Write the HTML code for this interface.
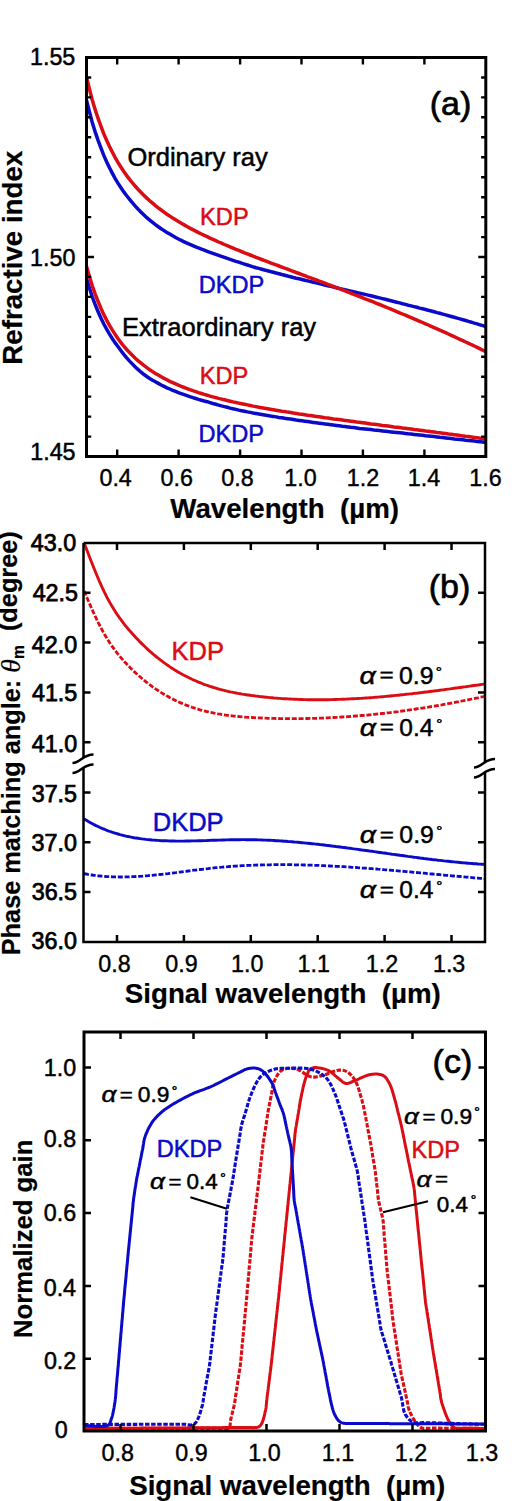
<!DOCTYPE html>
<html><head><meta charset="utf-8"><style>
html,body{margin:0;padding:0;background:#fff;width:520px;height:1501px;overflow:hidden}
svg{display:block}
text{font-family:"Liberation Sans", sans-serif;fill:#000}
</style></head><body>
<svg width="520" height="1501" viewBox="0 0 520 1501">
<path d="M86.5,100.1 L89.4,111.7 L92.2,122.2 L95.1,131.6 L98.0,140.1 L100.9,147.9 L103.7,155.1 L106.6,161.7 L109.5,167.8 L112.4,173.4 L115.2,178.6 L118.1,183.4 L121.0,187.8 L123.8,191.9 L126.7,195.8 L129.6,199.4 L132.5,202.9 L135.3,206.2 L138.2,209.3 L141.1,212.2 L144.0,215.0 L146.8,217.7 L149.7,220.1 L152.6,222.4 L155.4,224.6 L158.3,226.7 L161.2,228.7 L164.1,230.6 L166.9,232.4 L169.8,234.1 L172.7,235.8 L175.6,237.5 L178.4,239.0 L181.3,240.4 L184.2,241.8 L187.0,243.1 L189.9,244.4 L192.8,245.6 L195.7,246.8 L198.5,248.0 L201.4,249.1 L204.3,250.2 L207.2,251.3 L210.0,252.3 L212.9,253.3 L215.8,254.3 L218.6,255.3 L221.5,256.4 L224.4,257.4 L227.3,258.4 L230.1,259.4 L233.0,260.3 L235.9,261.3 L238.8,262.2 L241.6,263.2 L244.5,264.1 L247.4,265.0 L250.2,265.9 L253.1,266.8 L256.0,267.7 L258.9,268.4 L261.7,269.2 L264.6,270.0 L267.5,270.7 L270.4,271.5 L273.2,272.2 L276.1,273.0 L279.0,273.7 L281.8,274.5 L284.7,275.2 L287.6,276.0 L290.5,276.7 L293.3,277.5 L296.2,278.2 L299.1,278.8 L301.9,279.5 L304.8,280.2 L307.7,280.9 L310.6,281.6 L313.4,282.3 L316.3,282.9 L319.2,283.6 L322.1,284.3 L324.9,285.0 L327.8,285.7 L330.7,286.4 L333.5,287.1 L336.4,287.8 L339.3,288.5 L342.2,289.1 L345.0,289.8 L347.9,290.4 L350.8,291.1 L353.7,291.8 L356.5,292.4 L359.4,293.1 L362.3,293.8 L365.1,294.4 L368.0,295.1 L370.9,295.8 L373.8,296.5 L376.6,297.2 L379.5,297.9 L382.4,298.6 L385.3,299.3 L388.1,300.0 L391.0,300.7 L393.9,301.5 L396.7,302.2 L399.6,302.9 L402.5,303.7 L405.4,304.4 L408.2,305.2 L411.1,305.9 L414.0,306.6 L416.9,307.3 L419.7,308.1 L422.6,308.8 L425.5,309.5 L428.3,310.3 L431.2,311.0 L434.1,311.8 L437.0,312.6 L439.8,313.3 L442.7,314.1 L445.6,314.9 L448.5,315.7 L451.3,316.5 L454.2,317.3 L457.1,318.1 L459.9,318.9 L462.8,319.7 L465.7,320.5 L468.6,321.4 L471.4,322.2 L474.3,323.1 L477.2,323.9 L480.1,324.8 L482.9,325.7 L485.8,326.6" stroke="#0a0ac8" stroke-width="3.5" fill="none"/>
<path d="M86.5,77.1 L89.4,89.0 L92.2,99.7 L95.1,109.4 L98.0,118.2 L100.9,126.2 L103.7,133.6 L106.6,140.3 L109.5,146.6 L112.4,152.3 L115.2,157.6 L118.1,162.6 L121.0,167.2 L123.8,171.5 L126.7,175.6 L129.6,179.4 L132.5,183.0 L135.3,186.3 L138.2,189.5 L141.1,192.5 L144.0,195.4 L146.8,198.1 L149.7,200.7 L152.6,203.2 L155.4,205.6 L158.3,207.9 L161.2,210.0 L164.1,212.1 L166.9,214.2 L169.8,216.1 L172.7,218.0 L175.6,219.8 L178.4,221.6 L181.3,223.3 L184.2,224.9 L187.0,226.5 L189.9,228.1 L192.8,229.6 L195.7,231.1 L198.5,232.6 L201.4,234.0 L204.3,235.4 L207.2,236.7 L210.0,238.1 L212.9,239.4 L215.8,240.7 L218.6,242.0 L221.5,243.2 L224.4,244.5 L227.3,245.7 L230.1,246.9 L233.0,248.1 L235.9,249.3 L238.8,250.4 L241.6,251.6 L244.5,252.8 L247.4,253.9 L250.2,255.0 L253.1,256.1 L256.0,257.3 L258.9,258.4 L261.7,259.5 L264.6,260.6 L267.5,261.7 L270.4,262.8 L273.2,263.8 L276.1,264.9 L279.0,266.0 L281.8,267.1 L284.7,268.2 L287.6,269.2 L290.5,270.3 L293.3,271.4 L296.2,272.5 L299.1,273.5 L301.9,274.6 L304.8,275.7 L307.7,276.8 L310.6,277.8 L313.4,278.9 L316.3,280.0 L319.2,281.1 L322.1,282.2 L324.9,283.2 L327.8,284.3 L330.7,285.4 L333.5,286.5 L336.4,287.6 L339.3,288.7 L342.2,289.8 L345.0,290.9 L347.9,292.0 L350.8,293.1 L353.7,294.3 L356.5,295.4 L359.4,296.5 L362.3,297.6 L365.1,298.8 L368.0,299.9 L370.9,301.0 L373.8,302.2 L376.6,303.4 L379.5,304.5 L382.4,305.7 L385.3,306.8 L388.1,308.0 L391.0,309.2 L393.9,310.4 L396.7,311.6 L399.6,312.8 L402.5,314.0 L405.4,315.2 L408.2,316.4 L411.1,317.6 L414.0,318.8 L416.9,320.1 L419.7,321.3 L422.6,322.5 L425.5,323.8 L428.3,325.0 L431.2,326.3 L434.1,327.6 L437.0,328.9 L439.8,330.1 L442.7,331.4 L445.6,332.7 L448.5,334.0 L451.3,335.3 L454.2,336.6 L457.1,338.0 L459.9,339.3 L462.8,340.6 L465.7,342.0 L468.6,343.3 L471.4,344.7 L474.3,346.0 L477.2,347.4 L480.1,348.8 L482.9,350.2 L485.8,351.6" stroke="#da0c14" stroke-width="3.5" fill="none"/>
<path d="M86.5,278.2 L89.4,287.9 L92.2,296.6 L95.1,304.4 L98.0,311.5 L100.9,318.0 L103.7,323.8 L106.6,329.2 L109.5,334.1 L112.4,338.7 L115.2,342.9 L118.1,346.8 L121.0,350.7 L123.8,354.4 L126.7,357.9 L129.6,361.1 L132.5,364.1 L135.3,367.0 L138.2,369.6 L141.1,372.2 L144.0,374.5 L146.8,376.5 L149.7,378.4 L152.6,380.2 L155.4,381.8 L158.3,383.4 L161.2,385.0 L164.1,386.4 L166.9,387.8 L169.8,389.0 L172.7,390.3 L175.6,391.4 L178.4,392.6 L181.3,393.7 L184.2,394.7 L187.0,395.7 L189.9,396.7 L192.8,397.6 L195.7,398.5 L198.5,399.4 L201.4,400.2 L204.3,401.0 L207.2,401.7 L210.0,402.6 L212.9,403.5 L215.8,404.3 L218.6,405.1 L221.5,405.9 L224.4,406.6 L227.3,407.3 L230.1,408.1 L233.0,408.8 L235.9,409.4 L238.8,410.1 L241.6,410.7 L244.5,411.3 L247.4,411.9 L250.2,412.4 L253.1,413.0 L256.0,413.5 L258.9,414.0 L261.7,414.5 L264.6,415.0 L267.5,415.5 L270.4,416.0 L273.2,416.4 L276.1,416.9 L279.0,417.4 L281.8,417.8 L284.7,418.3 L287.6,418.7 L290.5,419.1 L293.3,419.5 L296.2,420.0 L299.1,420.4 L301.9,420.8 L304.8,421.2 L307.7,421.6 L310.6,422.0 L313.4,422.4 L316.3,422.8 L319.2,423.2 L322.1,423.6 L324.9,423.9 L327.8,424.3 L330.7,424.7 L333.5,425.1 L336.4,425.4 L339.3,425.8 L342.2,426.2 L345.0,426.5 L347.9,426.9 L350.8,427.3 L353.7,427.6 L356.5,428.0 L359.4,428.4 L362.3,428.7 L365.1,429.0 L368.0,429.3 L370.9,429.6 L373.8,430.0 L376.6,430.3 L379.5,430.6 L382.4,430.9 L385.3,431.2 L388.1,431.6 L391.0,431.9 L393.9,432.2 L396.7,432.5 L399.6,432.8 L402.5,433.1 L405.4,433.4 L408.2,433.8 L411.1,434.1 L414.0,434.4 L416.9,434.7 L419.7,435.0 L422.6,435.3 L425.5,435.7 L428.3,436.0 L431.2,436.3 L434.1,436.6 L437.0,436.9 L439.8,437.3 L442.7,437.6 L445.6,437.9 L448.5,438.2 L451.3,438.5 L454.2,438.9 L457.1,439.2 L459.9,439.5 L462.8,439.8 L465.7,440.2 L468.6,440.5 L471.4,440.8 L474.3,441.1 L477.2,441.5 L480.1,441.8 L482.9,442.1 L485.8,442.5" stroke="#0a0ac8" stroke-width="3.5" fill="none"/>
<path d="M86.5,266.2 L89.4,276.4 L92.2,285.6 L95.1,293.8 L98.0,301.3 L100.9,308.2 L103.7,314.4 L106.6,320.1 L109.5,325.3 L112.4,330.2 L115.2,334.6 L118.1,338.8 L121.0,342.6 L123.8,346.2 L126.7,349.5 L129.6,352.6 L132.5,355.5 L135.3,358.3 L138.2,360.8 L141.1,363.2 L144.0,365.5 L146.8,367.7 L149.7,369.7 L152.6,371.6 L155.4,373.4 L158.3,375.1 L161.2,376.8 L164.1,378.4 L166.9,379.8 L169.8,381.3 L172.7,382.6 L175.6,383.9 L178.4,385.2 L181.3,386.4 L184.2,387.5 L187.0,388.6 L189.9,389.7 L192.8,390.7 L195.7,391.6 L198.5,392.6 L201.4,393.5 L204.3,394.4 L207.2,395.2 L210.0,396.1 L212.9,396.9 L215.8,397.6 L218.6,398.4 L221.5,399.1 L224.4,399.8 L227.3,400.5 L230.1,401.2 L233.0,401.9 L235.9,402.5 L238.8,403.1 L241.6,403.7 L244.5,404.3 L247.4,404.9 L250.2,405.5 L253.1,406.1 L256.0,406.6 L258.9,407.2 L261.7,407.7 L264.6,408.2 L267.5,408.7 L270.4,409.2 L273.2,409.7 L276.1,410.2 L279.0,410.7 L281.8,411.2 L284.7,411.6 L287.6,412.1 L290.5,412.5 L293.3,413.0 L296.2,413.4 L299.1,413.9 L301.9,414.3 L304.8,414.7 L307.7,415.2 L310.6,415.6 L313.4,416.0 L316.3,416.4 L319.2,416.8 L322.1,417.2 L324.9,417.7 L327.8,418.1 L330.7,418.5 L333.5,418.9 L336.4,419.2 L339.3,419.6 L342.2,420.0 L345.0,420.4 L347.9,420.8 L350.8,421.2 L353.7,421.6 L356.5,422.0 L359.4,422.3 L362.3,422.7 L365.1,423.1 L368.0,423.5 L370.9,423.9 L373.8,424.2 L376.6,424.6 L379.5,425.0 L382.4,425.4 L385.3,425.7 L388.1,426.1 L391.0,426.5 L393.9,426.9 L396.7,427.2 L399.6,427.6 L402.5,428.0 L405.4,428.3 L408.2,428.7 L411.1,429.1 L414.0,429.5 L416.9,429.8 L419.7,430.2 L422.6,430.6 L425.5,431.0 L428.3,431.3 L431.2,431.7 L434.1,432.1 L437.0,432.5 L439.8,432.8 L442.7,433.2 L445.6,433.6 L448.5,434.0 L451.3,434.3 L454.2,434.7 L457.1,435.1 L459.9,435.5 L462.8,435.9 L465.7,436.3 L468.6,436.6 L471.4,437.0 L474.3,437.4 L477.2,437.8 L480.1,438.2 L482.9,438.6 L485.8,439.0" stroke="#da0c14" stroke-width="3.5" fill="none"/>
<rect x="86.5" y="57.5" width="399.3" height="399.0" fill="none" stroke="#000" stroke-width="3"/>
<path d="M86.5,77.5h4.7 M485.8,77.5h-4.7 M86.5,97.4h4.7 M485.8,97.4h-4.7 M86.5,117.3h4.7 M485.8,117.3h-4.7 M86.5,137.3h4.7 M485.8,137.3h-4.7 M86.5,157.2h4.7 M485.8,157.2h-4.7 M86.5,177.2h4.7 M485.8,177.2h-4.7 M86.5,197.2h4.7 M485.8,197.2h-4.7 M86.5,217.1h4.7 M485.8,217.1h-4.7 M86.5,237.1h4.7 M485.8,237.1h-4.7 M86.5,257.0h7.5 M485.8,257.0h-7.5 M86.5,276.9h4.7 M485.8,276.9h-4.7 M86.5,296.9h4.7 M485.8,296.9h-4.7 M86.5,316.9h4.7 M485.8,316.9h-4.7 M86.5,336.8h4.7 M485.8,336.8h-4.7 M86.5,356.8h4.7 M485.8,356.8h-4.7 M86.5,376.7h4.7 M485.8,376.7h-4.7 M86.5,396.6h4.7 M485.8,396.6h-4.7 M86.5,416.6h4.7 M485.8,416.6h-4.7 M86.5,436.6h4.7 M485.8,436.6h-4.7 M117.2,456.5v-7 M117.2,57.5v7 M178.6,456.5v-7 M178.6,57.5v7 M240.1,456.5v-7 M240.1,57.5v7 M301.5,456.5v-7 M301.5,57.5v7 M362.9,456.5v-7 M362.9,57.5v7 M424.4,456.5v-7 M424.4,57.5v7" stroke="#000" stroke-width="2.4" fill="none"/>
<path d="M84.0,542.9 L86.0,547.9 L88.0,553.1 L90.0,558.2 L92.0,563.2 L94.0,568.3 L96.0,573.2 L98.0,578.0 L100.0,582.7 L102.0,587.1 L104.0,591.4 L106.0,595.4 L108.0,599.3 L110.0,602.9 L112.0,606.3 L114.0,609.6 L116.0,612.7 L118.0,615.7 L120.0,618.5 L122.0,621.2 L124.0,623.8 L126.0,626.3 L128.0,628.7 L130.0,631.1 L132.0,633.3 L134.0,635.5 L136.0,637.7 L138.0,639.8 L140.0,641.9 L142.0,643.9 L144.0,645.8 L146.0,647.7 L148.0,649.6 L150.0,651.4 L152.0,653.1 L154.0,654.9 L156.0,656.5 L158.0,658.1 L160.0,659.7 L162.0,661.2 L164.0,662.7 L166.0,664.1 L168.0,665.5 L170.0,666.9 L172.0,668.2 L174.0,669.5 L176.0,670.7 L178.0,671.9 L180.0,673.1 L182.0,674.2 L184.0,675.3 L186.0,676.3 L188.0,677.3 L190.0,678.3 L192.0,679.3 L194.0,680.2 L196.0,681.0 L198.0,681.9 L200.0,682.7 L202.0,683.5 L204.0,684.3 L206.0,685.0 L208.0,685.7 L210.0,686.4 L212.0,687.0 L214.0,687.6 L216.0,688.2 L218.0,688.8 L220.0,689.4 L222.0,689.9 L224.0,690.4 L226.0,690.9 L228.0,691.3 L230.0,691.8 L232.0,692.2 L234.0,692.6 L236.0,693.0 L238.0,693.4 L240.0,693.7 L242.0,694.1 L244.0,694.4 L246.0,694.7 L248.0,695.0 L250.0,695.3 L252.0,695.6 L254.0,695.8 L256.0,696.1 L258.0,696.3 L260.0,696.6 L262.0,696.8 L264.0,697.0 L266.0,697.2 L268.0,697.4 L270.0,697.6 L272.0,697.8 L274.0,698.0 L276.0,698.1 L278.0,698.3 L280.0,698.4 L282.0,698.6 L284.0,698.7 L286.0,698.8 L288.0,698.9 L290.0,699.0 L292.0,699.1 L294.0,699.2 L296.0,699.3 L298.0,699.4 L300.0,699.5 L302.0,699.5 L304.0,699.6 L306.0,699.6 L308.0,699.7 L310.0,699.7 L312.0,699.7 L314.0,699.7 L316.0,699.7 L318.0,699.8 L320.0,699.7 L322.0,699.7 L324.0,699.7 L326.0,699.7 L328.0,699.7 L330.0,699.6 L332.0,699.6 L334.0,699.5 L336.0,699.5 L338.0,699.4 L340.0,699.4 L342.0,699.3 L344.0,699.2 L346.0,699.1 L348.0,699.0 L350.0,698.9 L352.0,698.8 L354.0,698.7 L356.0,698.6 L358.0,698.5 L360.0,698.4 L362.0,698.3 L364.0,698.1 L366.0,698.0 L368.0,697.9 L370.0,697.7 L372.0,697.6 L374.0,697.4 L376.0,697.2 L378.0,697.1 L380.0,696.9 L382.0,696.7 L384.0,696.6 L386.0,696.4 L388.0,696.2 L390.0,696.0 L392.0,695.8 L394.0,695.6 L396.0,695.4 L398.0,695.2 L400.0,695.0 L402.0,694.8 L404.0,694.6 L406.0,694.3 L408.0,694.1 L410.0,693.9 L412.0,693.7 L414.0,693.4 L416.0,693.2 L418.0,693.0 L420.0,692.7 L422.0,692.5 L424.0,692.2 L426.0,692.0 L428.0,691.8 L430.0,691.5 L432.0,691.2 L434.0,691.0 L436.0,690.7 L438.0,690.5 L440.0,690.2 L442.0,689.9 L444.0,689.7 L446.0,689.4 L448.0,689.1 L450.0,688.9 L452.0,688.6 L454.0,688.3 L456.0,688.0 L458.0,687.8 L460.0,687.5 L462.0,687.2 L464.0,686.9 L466.0,686.7 L468.0,686.4 L470.0,686.1 L472.0,685.8 L474.0,685.5 L476.0,685.2 L478.0,685.0 L480.0,684.7 L482.0,684.4 L484.0,684.1 L485.0,684.0" stroke="#da0c14" stroke-width="2.9" fill="none"/>
<path d="M84.0,590.9 L86.0,595.5 L88.0,600.1 L90.0,604.6 L92.0,609.2 L94.0,613.6 L96.0,617.9 L98.0,622.1 L100.0,626.0 L102.0,629.8 L104.0,633.4 L106.0,636.8 L108.0,640.1 L110.0,643.2 L112.0,646.1 L114.0,648.9 L116.0,651.6 L118.0,654.1 L120.0,656.6 L122.0,658.9 L124.0,661.2 L126.0,663.3 L128.0,665.4 L130.0,667.5 L132.0,669.4 L134.0,671.4 L136.0,673.2 L138.0,675.1 L140.0,676.8 L142.0,678.5 L144.0,680.2 L146.0,681.8 L148.0,683.4 L150.0,684.9 L152.0,686.4 L154.0,687.8 L156.0,689.2 L158.0,690.5 L160.0,691.8 L162.0,693.1 L164.0,694.3 L166.0,695.5 L168.0,696.6 L170.0,697.7 L172.0,698.7 L174.0,699.7 L176.0,700.7 L178.0,701.7 L180.0,702.6 L182.0,703.4 L184.0,704.3 L186.0,705.1 L188.0,705.8 L190.0,706.5 L192.0,707.3 L194.0,707.9 L196.0,708.6 L198.0,709.2 L200.0,709.8 L202.0,710.3 L204.0,710.8 L206.0,711.4 L208.0,711.8 L210.0,712.3 L212.0,712.7 L214.0,713.1 L216.0,713.5 L218.0,713.9 L220.0,714.2 L222.0,714.5 L224.0,714.8 L226.0,715.1 L228.0,715.4 L230.0,715.7 L232.0,715.9 L234.0,716.1 L236.0,716.3 L238.0,716.5 L240.0,716.7 L242.0,716.9 L244.0,717.0 L246.0,717.2 L248.0,717.3 L250.0,717.4 L252.0,717.5 L254.0,717.6 L256.0,717.8 L258.0,717.9 L260.0,717.9 L262.0,718.0 L264.0,718.1 L266.0,718.2 L268.0,718.3 L270.0,718.3 L272.0,718.4 L274.0,718.4 L276.0,718.5 L278.0,718.5 L280.0,718.6 L282.0,718.6 L284.0,718.6 L286.0,718.6 L288.0,718.6 L290.0,718.7 L292.0,718.7 L294.0,718.7 L296.0,718.6 L298.0,718.6 L300.0,718.6 L302.0,718.6 L304.0,718.6 L306.0,718.5 L308.0,718.5 L310.0,718.4 L312.0,718.4 L314.0,718.3 L316.0,718.3 L318.0,718.2 L320.0,718.1 L322.0,718.1 L324.0,718.0 L326.0,717.9 L328.0,717.8 L330.0,717.7 L332.0,717.6 L334.0,717.5 L336.0,717.4 L338.0,717.3 L340.0,717.2 L342.0,717.0 L344.0,716.9 L346.0,716.8 L348.0,716.6 L350.0,716.5 L352.0,716.3 L354.0,716.2 L356.0,716.0 L358.0,715.9 L360.0,715.7 L362.0,715.5 L364.0,715.3 L366.0,715.1 L368.0,715.0 L370.0,714.8 L372.0,714.6 L374.0,714.4 L376.0,714.1 L378.0,713.9 L380.0,713.7 L382.0,713.5 L384.0,713.3 L386.0,713.0 L388.0,712.8 L390.0,712.6 L392.0,712.3 L394.0,712.1 L396.0,711.8 L398.0,711.6 L400.0,711.3 L402.0,711.0 L404.0,710.8 L406.0,710.5 L408.0,710.2 L410.0,709.9 L412.0,709.6 L414.0,709.3 L416.0,709.0 L418.0,708.7 L420.0,708.4 L422.0,708.1 L424.0,707.8 L426.0,707.5 L428.0,707.2 L430.0,706.8 L432.0,706.5 L434.0,706.2 L436.0,705.8 L438.0,705.5 L440.0,705.1 L442.0,704.8 L444.0,704.4 L446.0,704.1 L448.0,703.7 L450.0,703.3 L452.0,703.0 L454.0,702.6 L456.0,702.2 L458.0,701.8 L460.0,701.4 L462.0,701.0 L464.0,700.6 L466.0,700.2 L468.0,699.8 L470.0,699.4 L472.0,699.0 L474.0,698.6 L476.0,698.2 L478.0,697.8 L480.0,697.3 L482.0,696.9 L484.0,696.5 L485.0,696.2" stroke="#da0c14" stroke-width="2.8" fill="none" stroke-dasharray="5 1.8"/>
<path d="M84.0,818.8 L86.0,820.1 L88.0,821.3 L90.0,822.4 L92.0,823.5 L94.0,824.6 L96.0,825.6 L98.0,826.5 L100.0,827.5 L102.0,828.4 L104.0,829.2 L106.0,830.0 L108.0,830.8 L110.0,831.5 L112.0,832.2 L114.0,832.8 L116.0,833.4 L118.0,834.0 L120.0,834.6 L122.0,835.1 L124.0,835.6 L126.0,836.1 L128.0,836.5 L130.0,836.9 L132.0,837.3 L134.0,837.7 L136.0,838.0 L138.0,838.3 L140.0,838.6 L142.0,838.9 L144.0,839.1 L146.0,839.4 L148.0,839.6 L150.0,839.8 L152.0,840.0 L154.0,840.1 L156.0,840.3 L158.0,840.4 L160.0,840.6 L162.0,840.7 L164.0,840.8 L166.0,840.8 L168.0,840.9 L170.0,841.0 L172.0,841.0 L174.0,841.0 L176.0,841.1 L178.0,841.1 L180.0,841.1 L182.0,841.1 L184.0,841.1 L186.0,841.0 L188.0,841.0 L190.0,841.0 L192.0,840.9 L194.0,840.9 L196.0,840.9 L198.0,840.8 L200.0,840.7 L202.0,840.7 L204.0,840.6 L206.0,840.6 L208.0,840.5 L210.0,840.4 L212.0,840.3 L214.0,840.3 L216.0,840.2 L218.0,840.1 L220.0,840.1 L222.0,840.0 L224.0,840.0 L226.0,839.9 L228.0,839.9 L230.0,839.8 L232.0,839.8 L234.0,839.7 L236.0,839.7 L238.0,839.7 L240.0,839.7 L242.0,839.6 L244.0,839.6 L246.0,839.7 L248.0,839.7 L250.0,839.7 L252.0,839.7 L254.0,839.8 L256.0,839.8 L258.0,839.9 L260.0,839.9 L262.0,840.0 L264.0,840.1 L266.0,840.1 L268.0,840.2 L270.0,840.3 L272.0,840.4 L274.0,840.5 L276.0,840.7 L278.0,840.8 L280.0,840.9 L282.0,841.0 L284.0,841.2 L286.0,841.3 L288.0,841.5 L290.0,841.6 L292.0,841.8 L294.0,842.0 L296.0,842.1 L298.0,842.3 L300.0,842.5 L302.0,842.7 L304.0,842.9 L306.0,843.1 L308.0,843.3 L310.0,843.5 L312.0,843.7 L314.0,843.9 L316.0,844.1 L318.0,844.3 L320.0,844.6 L322.0,844.8 L324.0,845.0 L326.0,845.3 L328.0,845.5 L330.0,845.7 L332.0,846.0 L334.0,846.2 L336.0,846.5 L338.0,846.7 L340.0,847.0 L342.0,847.3 L344.0,847.5 L346.0,847.8 L348.0,848.1 L350.0,848.3 L352.0,848.6 L354.0,848.9 L356.0,849.1 L358.0,849.4 L360.0,849.7 L362.0,850.0 L364.0,850.2 L366.0,850.5 L368.0,850.8 L370.0,851.1 L372.0,851.3 L374.0,851.6 L376.0,851.9 L378.0,852.2 L380.0,852.5 L382.0,852.8 L384.0,853.0 L386.0,853.3 L388.0,853.6 L390.0,853.9 L392.0,854.2 L394.0,854.4 L396.0,854.7 L398.0,855.0 L400.0,855.3 L402.0,855.5 L404.0,855.8 L406.0,856.1 L408.0,856.4 L410.0,856.6 L412.0,856.9 L414.0,857.2 L416.0,857.4 L418.0,857.7 L420.0,858.0 L422.0,858.2 L424.0,858.5 L426.0,858.7 L428.0,859.0 L430.0,859.2 L432.0,859.5 L434.0,859.7 L436.0,859.9 L438.0,860.2 L440.0,860.4 L442.0,860.6 L444.0,860.9 L446.0,861.1 L448.0,861.3 L450.0,861.5 L452.0,861.7 L454.0,861.9 L456.0,862.1 L458.0,862.3 L460.0,862.5 L462.0,862.7 L464.0,862.9 L466.0,863.0 L468.0,863.2 L470.0,863.4 L472.0,863.5 L474.0,863.7 L476.0,863.8 L478.0,864.0 L480.0,864.1 L482.0,864.2 L484.0,864.4 L485.0,864.4" stroke="#0a0ac8" stroke-width="2.9" fill="none"/>
<path d="M84.0,873.7 L86.0,874.0 L88.0,874.4 L90.0,874.7 L92.0,875.0 L94.0,875.3 L96.0,875.5 L98.0,875.8 L100.0,876.0 L102.0,876.2 L104.0,876.3 L106.0,876.5 L108.0,876.6 L110.0,876.7 L112.0,876.8 L114.0,876.9 L116.0,876.9 L118.0,876.9 L120.0,877.0 L122.0,877.0 L124.0,876.9 L126.0,876.9 L128.0,876.9 L130.0,876.8 L132.0,876.7 L134.0,876.6 L136.0,876.5 L138.0,876.4 L140.0,876.3 L142.0,876.2 L144.0,876.0 L146.0,875.8 L148.0,875.7 L150.0,875.5 L152.0,875.3 L154.0,875.1 L156.0,874.9 L158.0,874.7 L160.0,874.5 L162.0,874.3 L164.0,874.0 L166.0,873.8 L168.0,873.6 L170.0,873.3 L172.0,873.1 L174.0,872.8 L176.0,872.6 L178.0,872.3 L180.0,872.1 L182.0,871.8 L184.0,871.5 L186.0,871.3 L188.0,871.0 L190.0,870.8 L192.0,870.5 L194.0,870.2 L196.0,870.0 L198.0,869.7 L200.0,869.5 L202.0,869.3 L204.0,869.0 L206.0,868.8 L208.0,868.6 L210.0,868.3 L212.0,868.1 L214.0,867.9 L216.0,867.7 L218.0,867.5 L220.0,867.3 L222.0,867.2 L224.0,867.0 L226.0,866.8 L228.0,866.7 L230.0,866.5 L232.0,866.4 L234.0,866.2 L236.0,866.1 L238.0,866.0 L240.0,865.8 L242.0,865.7 L244.0,865.6 L246.0,865.5 L248.0,865.4 L250.0,865.3 L252.0,865.3 L254.0,865.2 L256.0,865.1 L258.0,865.0 L260.0,865.0 L262.0,864.9 L264.0,864.9 L266.0,864.8 L268.0,864.8 L270.0,864.8 L272.0,864.7 L274.0,864.7 L276.0,864.7 L278.0,864.7 L280.0,864.7 L282.0,864.7 L284.0,864.7 L286.0,864.7 L288.0,864.7 L290.0,864.7 L292.0,864.7 L294.0,864.8 L296.0,864.8 L298.0,864.8 L300.0,864.9 L302.0,864.9 L304.0,865.0 L306.0,865.0 L308.0,865.1 L310.0,865.1 L312.0,865.2 L314.0,865.3 L316.0,865.4 L318.0,865.4 L320.0,865.5 L322.0,865.6 L324.0,865.7 L326.0,865.8 L328.0,865.9 L330.0,866.0 L332.0,866.1 L334.0,866.2 L336.0,866.3 L338.0,866.4 L340.0,866.5 L342.0,866.6 L344.0,866.7 L346.0,866.9 L348.0,867.0 L350.0,867.1 L352.0,867.3 L354.0,867.4 L356.0,867.5 L358.0,867.7 L360.0,867.8 L362.0,868.0 L364.0,868.1 L366.0,868.2 L368.0,868.4 L370.0,868.6 L372.0,868.7 L374.0,868.9 L376.0,869.0 L378.0,869.2 L380.0,869.3 L382.0,869.5 L384.0,869.7 L386.0,869.8 L388.0,870.0 L390.0,870.2 L392.0,870.4 L394.0,870.5 L396.0,870.7 L398.0,870.9 L400.0,871.1 L402.0,871.2 L404.0,871.4 L406.0,871.6 L408.0,871.8 L410.0,871.9 L412.0,872.1 L414.0,872.3 L416.0,872.5 L418.0,872.7 L420.0,872.9 L422.0,873.0 L424.0,873.2 L426.0,873.4 L428.0,873.6 L430.0,873.8 L432.0,874.0 L434.0,874.2 L436.0,874.3 L438.0,874.5 L440.0,874.7 L442.0,874.9 L444.0,875.1 L446.0,875.3 L448.0,875.4 L450.0,875.6 L452.0,875.8 L454.0,876.0 L456.0,876.2 L458.0,876.4 L460.0,876.5 L462.0,876.7 L464.0,876.9 L466.0,877.1 L468.0,877.2 L470.0,877.4 L472.0,877.6 L474.0,877.8 L476.0,877.9 L478.0,878.1 L480.0,878.3 L482.0,878.4 L484.0,878.6 L485.0,878.7" stroke="#0a0ac8" stroke-width="2.8" fill="none" stroke-dasharray="5 1.8"/>
<path d="M83.5,543.0 H485.0 V762.6 M485.0,772.6 V942.0 H83.5 V768.1 M83.5,758.1 V543.0" stroke="#000" stroke-width="2.5" fill="none"/>
<path d="M72.5,763.1 C80.5,763.1 82.5,754.6 93.5,754.6 M72.5,773.1 C80.5,773.1 82.5,764.6 93.5,764.6  M474.0,767.6 C482.0,767.6 484.0,759.1 495.0,759.1 M474.0,777.6 C482.0,777.6 484.0,769.1 495.0,769.1 " stroke="#000" stroke-width="2.5" fill="none"/>
<path d="M83.5,592.8h7 M485.0,592.8h-7 M83.5,642.6h7 M485.0,642.6h-7 M83.5,692.5h7 M485.0,692.5h-7 M83.5,742.3h7 M485.0,742.3h-7 M83.5,792.4h7 M485.0,792.4h-7 M83.5,842.3h7 M485.0,842.3h-7 M83.5,892.1h7 M485.0,892.1h-7 M117.0,942.0v-7 M117.0,543.0v7 M183.9,942.0v-7 M183.9,543.0v7 M250.8,942.0v-7 M250.8,543.0v7 M317.7,942.0v-7 M317.7,543.0v7 M384.6,942.0v-7 M384.6,543.0v7 M451.5,942.0v-7 M451.5,543.0v7" stroke="#000" stroke-width="2.5" fill="none"/>
<path d="M84.0,1428.5 L85.2,1428.5 L86.3,1428.5 L87.5,1428.5 L88.6,1428.5 L89.8,1428.5 L91.0,1428.5 L92.1,1428.5 L93.3,1428.4 L94.4,1428.4 L95.6,1428.4 L96.7,1428.4 L97.9,1428.4 L99.1,1428.4 L100.2,1428.4 L101.4,1428.4 L102.5,1428.4 L103.7,1428.4 L104.9,1428.4 L106.0,1428.4 L107.2,1428.4 L108.3,1428.3 L109.5,1428.3 L110.6,1428.3 L111.8,1428.3 L113.0,1428.3 L114.1,1428.3 L115.3,1428.3 L116.4,1428.3 L117.6,1428.3 L118.8,1428.3 L119.9,1428.3 L121.1,1428.3 L122.2,1428.3 L123.4,1428.3 L124.6,1428.2 L125.7,1428.2 L126.9,1428.2 L128.0,1428.2 L129.2,1428.2 L130.3,1428.2 L131.5,1428.2 L132.7,1428.2 L133.8,1428.2 L135.0,1428.2 L136.1,1428.2 L137.3,1428.2 L138.5,1428.2 L139.6,1428.2 L140.8,1428.2 L141.9,1428.1 L143.1,1428.1 L144.2,1428.1 L145.4,1428.1 L146.6,1428.1 L147.7,1428.1 L148.9,1428.1 L150.0,1428.1 L151.2,1428.1 L152.4,1428.1 L153.5,1428.1 L154.7,1428.1 L155.8,1428.1 L157.0,1428.1 L158.1,1428.0 L159.3,1428.0 L160.5,1428.0 L161.6,1428.0 L162.8,1428.0 L163.9,1428.0 L165.1,1428.0 L166.3,1428.0 L167.4,1428.0 L168.6,1428.0 L169.7,1428.0 L170.9,1428.0 L172.1,1428.0 L173.2,1428.0 L174.4,1427.9 L175.5,1427.9 L176.7,1427.9 L177.8,1427.9 L179.0,1427.9 L180.2,1427.9 L181.3,1427.9 L182.5,1427.9 L183.6,1427.9 L184.8,1427.9 L186.0,1427.9 L187.1,1427.9 L188.3,1427.9 L189.4,1427.9 L190.6,1427.8 L191.7,1427.8 L192.9,1427.8 L194.1,1427.8 L195.2,1427.8 L196.4,1427.8 L197.5,1427.8 L198.7,1427.8 L199.9,1427.8 L201.0,1427.8 L202.2,1427.8 L203.3,1427.8 L204.5,1427.8 L205.6,1427.8 L206.8,1427.7 L208.0,1427.7 L209.1,1427.7 L210.3,1427.7 L211.4,1427.7 L212.6,1427.7 L213.8,1427.7 L214.9,1427.7 L216.1,1427.7 L217.2,1427.7 L218.4,1427.7 L219.6,1427.7 L220.7,1427.7 L221.9,1427.7 L223.0,1427.6 L224.2,1427.6 L225.3,1427.6 L226.5,1427.6 L227.7,1427.6 L228.8,1427.6 L230.0,1427.6 L231.1,1427.6 L232.3,1427.6 L233.5,1427.6 L234.6,1427.6 L235.8,1427.6 L236.9,1427.6 L238.1,1427.6 L239.2,1427.6 L240.4,1427.6 L241.5,1427.6 L242.7,1427.6 L243.8,1427.6 L245.0,1427.6 L246.2,1427.5 L247.5,1427.5 L248.9,1427.5 L250.4,1427.6 L251.9,1427.6 L253.3,1427.7 L254.8,1427.6 L256.1,1427.5 L257.4,1427.2 L258.6,1426.8 L259.6,1426.2 L260.6,1425.2 L261.4,1424.0 L262.2,1422.6 L262.8,1421.0 L263.4,1419.3 L263.9,1417.5 L264.3,1415.7 L264.7,1414.0 L265.0,1412.3 L265.4,1410.8 L265.7,1409.6 L265.9,1408.4 L266.1,1407.2 L266.2,1406.1 L266.3,1404.9 L266.4,1403.8 L266.5,1402.7 L266.6,1401.5 L266.7,1400.4 L266.9,1399.2 L267.0,1398.1 L267.1,1396.9 L267.3,1395.8 L267.4,1394.6 L267.6,1393.5 L267.7,1392.3 L267.9,1391.2 L268.0,1390.0 L268.2,1388.9 L268.3,1387.7 L268.4,1386.5 L268.6,1385.4 L268.7,1384.2 L268.9,1383.1 L269.0,1381.9 L269.2,1380.8 L269.3,1379.6 L269.5,1378.5 L269.6,1377.3 L269.8,1376.1 L269.9,1375.0 L270.0,1373.8 L270.2,1372.7 L270.3,1371.5 L270.5,1370.4 L270.6,1369.2 L270.8,1368.1 L270.9,1366.9 L271.1,1365.8 L271.2,1364.6 L271.3,1363.4 L271.5,1362.3 L271.6,1361.1 L271.7,1360.0 L271.8,1358.8 L272.0,1357.7 L272.1,1356.5 L272.2,1355.4 L272.3,1354.2 L272.5,1353.1 L272.6,1351.9 L272.7,1350.8 L272.8,1349.6 L273.0,1348.5 L273.1,1347.3 L273.2,1346.1 L273.4,1345.0 L273.5,1343.8 L273.6,1342.7 L273.7,1341.5 L273.9,1340.4 L274.0,1339.2 L274.1,1338.1 L274.2,1336.9 L274.4,1335.8 L274.5,1334.6 L274.6,1333.5 L274.7,1332.3 L274.9,1331.2 L275.0,1330.0 L275.1,1328.8 L275.3,1327.7 L275.4,1326.5 L275.5,1325.4 L275.6,1324.2 L275.8,1323.1 L275.9,1321.9 L276.0,1320.8 L276.1,1319.6 L276.3,1318.5 L276.4,1317.3 L276.5,1316.2 L276.6,1315.0 L276.8,1313.9 L276.9,1312.7 L277.0,1311.5 L277.2,1310.4 L277.3,1309.2 L277.4,1308.1 L277.5,1306.9 L277.7,1305.8 L277.8,1304.6 L277.9,1303.5 L278.0,1302.3 L278.2,1301.2 L278.3,1300.0 L278.4,1298.9 L278.6,1297.7 L278.7,1296.6 L278.8,1295.4 L278.9,1294.2 L279.0,1293.1 L279.2,1291.9 L279.3,1290.8 L279.4,1289.6 L279.5,1288.5 L279.6,1287.3 L279.7,1286.2 L279.8,1285.0 L280.0,1283.9 L280.1,1282.7 L280.2,1281.6 L280.3,1280.4 L280.4,1279.2 L280.5,1278.1 L280.7,1276.9 L280.8,1275.8 L280.9,1274.6 L281.0,1273.5 L281.1,1272.3 L281.2,1271.2 L281.4,1270.0 L281.5,1268.9 L281.6,1267.7 L281.7,1266.6 L281.8,1265.4 L281.9,1264.2 L282.0,1263.1 L282.2,1261.9 L282.3,1260.8 L282.4,1259.6 L282.5,1258.5 L282.6,1257.3 L282.7,1256.2 L282.9,1255.0 L283.0,1253.9 L283.1,1252.7 L283.2,1251.5 L283.3,1250.4 L283.4,1249.2 L283.6,1248.1 L283.7,1246.9 L283.8,1245.8 L283.9,1244.6 L284.0,1243.5 L284.1,1242.3 L284.3,1241.2 L284.4,1240.0 L284.5,1238.9 L284.6,1237.7 L284.7,1236.5 L284.8,1235.4 L284.9,1234.2 L285.1,1233.1 L285.2,1231.9 L285.3,1230.8 L285.4,1229.6 L285.5,1228.5 L285.6,1227.3 L285.8,1226.2 L285.9,1225.0 L286.0,1223.9 L286.1,1222.7 L286.2,1221.5 L286.3,1220.4 L286.5,1219.2 L286.6,1218.1 L286.7,1216.9 L286.8,1215.8 L286.9,1214.6 L287.0,1213.5 L287.2,1212.3 L287.3,1211.2 L287.4,1210.0 L287.5,1208.8 L287.6,1207.7 L287.7,1206.5 L287.8,1205.4 L288.0,1204.2 L288.1,1203.1 L288.2,1201.9 L288.3,1200.8 L288.4,1199.6 L288.5,1198.5 L288.7,1197.3 L288.8,1196.2 L288.9,1195.0 L289.0,1193.8 L289.1,1192.7 L289.2,1191.5 L289.4,1190.4 L289.5,1189.2 L289.6,1188.0 L289.7,1186.9 L289.8,1185.7 L289.9,1184.5 L290.1,1183.4 L290.2,1182.2 L290.3,1181.1 L290.4,1180.0 L290.5,1179.0 L290.6,1178.0 L290.7,1177.0 L290.8,1176.0 L290.9,1175.0 L291.0,1174.1 L291.1,1173.1 L291.2,1172.1 L291.3,1171.1 L291.4,1170.2 L291.5,1169.2 L291.6,1168.2 L291.7,1167.2 L291.8,1166.2 L291.9,1165.2 L292.0,1164.3 L292.1,1163.3 L292.2,1162.3 L292.3,1161.3 L292.4,1160.3 L292.5,1159.3 L292.6,1158.4 L292.7,1157.4 L292.8,1156.4 L292.9,1155.4 L293.0,1154.4 L293.1,1153.4 L293.2,1152.4 L293.3,1151.5 L293.4,1150.5 L293.5,1149.5 L293.6,1148.5 L293.7,1147.5 L293.8,1146.5 L293.9,1145.6 L294.0,1144.6 L294.1,1143.6 L294.2,1142.6 L294.3,1141.6 L294.4,1140.6 L294.5,1139.7 L294.6,1138.7 L294.7,1137.7 L294.8,1136.7 L294.9,1135.7 L294.9,1134.8 L295.0,1133.8 L295.2,1132.8 L295.3,1131.8 L295.4,1130.8 L295.5,1129.7 L295.7,1128.7 L295.9,1127.6 L296.1,1126.5 L296.3,1125.4 L296.4,1124.4 L296.6,1123.3 L296.8,1122.2 L297.0,1121.1 L297.2,1120.0 L297.4,1119.0 L297.6,1117.9 L297.7,1116.8 L297.9,1115.7 L298.1,1114.7 L298.3,1113.6 L298.5,1112.5 L298.6,1111.4 L298.8,1110.3 L299.0,1109.3 L299.2,1108.2 L299.3,1107.2 L299.5,1106.1 L299.6,1105.1 L299.8,1104.1 L300.0,1103.1 L300.1,1102.0 L300.3,1100.9 L300.6,1099.7 L300.8,1098.5 L301.2,1096.6 L301.6,1094.5 L302.1,1092.2 L302.6,1089.9 L303.1,1087.5 L303.7,1085.1 L304.3,1082.8 L304.9,1080.7 L305.5,1078.7 L306.2,1076.9 L306.6,1075.8 L307.1,1074.7 L307.5,1073.7 L307.9,1072.7 L308.4,1071.7 L308.8,1070.9 L309.4,1070.1 L310.0,1069.4 L310.7,1068.8 L311.5,1068.3 L312.7,1067.9 L314.1,1067.6 L315.7,1067.6 L317.5,1067.7 L319.2,1067.9 L321.1,1068.2 L322.9,1068.6 L324.6,1069.1 L326.2,1069.7 L327.7,1070.2 L328.9,1070.8 L330.0,1071.4 L331.1,1072.2 L332.2,1073.0 L333.2,1073.8 L334.1,1074.7 L335.1,1075.6 L336.1,1076.4 L337.0,1077.3 L338.0,1078.0 L338.8,1078.6 L339.6,1079.3 L340.4,1080.0 L341.2,1080.7 L342.0,1081.4 L342.8,1082.0 L343.6,1082.5 L344.4,1083.0 L345.2,1083.3 L346.0,1083.5 L346.8,1083.6 L347.5,1083.5 L348.3,1083.3 L349.0,1083.1 L349.8,1082.8 L350.6,1082.5 L351.4,1082.1 L352.2,1081.7 L353.1,1081.3 L354.0,1081.0 L355.4,1080.4 L357.0,1079.8 L358.7,1079.0 L360.4,1078.2 L362.2,1077.4 L363.9,1076.7 L365.7,1075.9 L367.5,1075.3 L369.2,1074.8 L370.8,1074.5 L372.1,1074.3 L373.4,1074.2 L374.7,1074.1 L376.1,1074.1 L377.3,1074.1 L378.6,1074.2 L379.8,1074.4 L380.9,1074.6 L382.0,1075.0 L383.0,1075.4 L383.8,1075.9 L384.5,1076.4 L385.2,1077.1 L385.9,1077.8 L386.5,1078.5 L387.0,1079.3 L387.6,1080.2 L388.1,1081.1 L388.7,1082.0 L389.2,1083.0 L390.0,1084.5 L390.7,1086.2 L391.4,1088.1 L392.1,1090.1 L392.7,1092.1 L393.3,1094.2 L393.9,1096.2 L394.4,1098.1 L394.9,1099.9 L395.4,1101.5 L395.7,1102.5 L395.9,1103.3 L396.1,1104.2 L396.3,1105.0 L396.5,1105.8 L396.7,1106.6 L396.9,1107.4 L397.1,1108.1 L397.2,1108.9 L397.4,1109.7 L397.6,1110.6 L397.8,1111.4 L398.0,1112.2 L398.2,1113.0 L398.4,1113.8 L398.7,1114.7 L398.9,1115.5 L399.1,1116.3 L399.3,1117.1 L399.5,1118.0 L399.7,1118.8 L399.9,1119.6 L400.1,1120.4 L400.3,1121.2 L400.5,1122.0 L400.7,1122.8 L400.9,1123.7 L401.1,1124.5 L401.3,1125.3 L401.5,1126.2 L401.7,1127.2 L401.9,1128.2 L402.1,1129.2 L402.3,1130.2 L402.5,1131.3 L402.7,1132.3 L403.0,1133.3 L403.2,1134.4 L403.4,1135.4 L403.6,1136.5 L403.8,1137.5 L404.0,1138.5 L404.2,1139.5 L404.4,1140.6 L404.6,1141.6 L404.8,1142.6 L405.0,1143.7 L405.2,1144.7 L405.4,1145.7 L405.6,1146.7 L405.8,1147.8 L406.0,1148.8 L406.3,1149.8 L406.5,1150.8 L406.7,1151.9 L406.9,1152.9 L407.1,1153.9 L407.3,1154.9 L407.5,1156.0 L407.7,1157.0 L407.9,1158.0 L408.1,1159.0 L408.3,1160.1 L408.5,1161.1 L408.7,1162.1 L409.0,1163.1 L409.2,1164.2 L409.4,1165.2 L409.6,1166.2 L409.8,1167.2 L410.0,1168.3 L410.2,1169.3 L410.4,1170.3 L410.6,1171.3 L410.9,1172.3 L411.1,1173.4 L411.3,1174.4 L411.5,1175.4 L411.7,1176.4 L411.9,1177.5 L412.1,1178.5 L412.3,1179.5 L412.6,1180.5 L412.8,1181.5 L413.0,1182.6 L413.2,1183.6 L413.4,1184.6 L413.6,1185.6 L413.8,1186.7 L414.0,1187.7 L414.1,1188.7 L414.3,1189.8 L414.4,1190.9 L414.5,1191.9 L414.6,1193.0 L414.7,1194.0 L414.8,1195.1 L414.9,1196.2 L415.0,1197.2 L415.1,1198.3 L415.2,1199.3 L415.3,1200.4 L415.4,1201.5 L415.5,1202.5 L415.6,1203.6 L415.7,1204.6 L415.8,1205.7 L415.9,1206.7 L416.0,1207.8 L416.1,1208.9 L416.2,1209.9 L416.3,1211.0 L416.4,1212.0 L416.5,1213.1 L416.7,1214.2 L416.8,1215.2 L416.9,1216.3 L417.0,1217.3 L417.1,1218.4 L417.2,1219.4 L417.3,1220.5 L417.4,1221.6 L417.5,1222.6 L417.6,1223.7 L417.7,1224.7 L417.8,1225.8 L417.9,1226.8 L418.0,1227.9 L418.1,1229.0 L418.2,1230.0 L418.3,1231.1 L418.5,1232.1 L418.6,1233.2 L418.7,1234.3 L418.8,1235.3 L418.9,1236.4 L419.0,1237.4 L419.1,1238.5 L419.2,1239.6 L419.3,1240.6 L419.4,1241.6 L419.5,1242.6 L419.6,1243.6 L419.7,1244.7 L419.8,1245.7 L419.9,1246.7 L420.0,1247.7 L420.1,1248.7 L420.2,1249.7 L420.3,1250.7 L420.4,1251.7 L420.5,1252.7 L420.6,1253.7 L420.7,1254.7 L420.8,1255.8 L420.9,1256.8 L421.0,1257.8 L421.1,1258.8 L421.2,1259.8 L421.3,1260.8 L421.4,1261.8 L421.5,1262.8 L421.6,1263.8 L421.7,1264.8 L421.8,1265.8 L421.9,1266.9 L422.0,1267.9 L422.1,1268.9 L422.2,1269.9 L422.4,1270.9 L422.5,1271.9 L422.6,1272.9 L422.7,1273.9 L422.8,1274.9 L422.9,1276.0 L423.0,1277.0 L423.1,1278.0 L423.2,1279.0 L423.3,1280.0 L423.4,1281.0 L423.5,1282.0 L423.6,1283.0 L423.7,1284.0 L423.8,1285.0 L423.9,1286.0 L424.0,1287.1 L424.1,1288.1 L424.2,1289.1 L424.3,1290.1 L424.4,1291.1 L424.5,1292.1 L424.6,1293.1 L424.7,1294.1 L424.8,1295.1 L424.9,1296.1 L425.0,1297.1 L425.1,1298.2 L425.2,1299.2 L425.3,1300.2 L425.4,1301.2 L425.5,1302.2 L425.7,1303.3 L425.8,1304.3 L426.0,1305.4 L426.2,1306.4 L426.3,1307.5 L426.5,1308.5 L426.7,1309.6 L426.9,1310.6 L427.0,1311.7 L427.2,1312.8 L427.3,1313.8 L427.5,1314.8 L427.7,1315.9 L427.8,1317.0 L428.0,1318.0 L428.2,1319.0 L428.3,1320.1 L428.5,1321.2 L428.6,1322.2 L428.8,1323.2 L429.0,1324.3 L429.1,1325.3 L429.3,1326.4 L429.4,1327.5 L429.6,1328.5 L429.8,1329.5 L429.9,1330.6 L430.1,1331.7 L430.3,1332.7 L430.4,1333.8 L430.6,1334.8 L430.7,1335.8 L430.9,1336.9 L431.1,1338.0 L431.2,1339.0 L431.4,1340.1 L431.6,1341.1 L431.7,1342.2 L431.9,1343.2 L432.0,1344.3 L432.2,1345.3 L432.4,1346.4 L432.5,1347.4 L432.7,1348.5 L432.8,1349.5 L433.0,1350.6 L433.2,1351.6 L433.3,1352.7 L433.5,1353.7 L433.7,1354.7 L433.8,1355.7 L434.0,1356.6 L434.1,1357.6 L434.3,1358.6 L434.5,1359.5 L434.6,1360.5 L434.8,1361.5 L435.0,1362.4 L435.1,1363.4 L435.3,1364.3 L435.4,1365.3 L435.6,1366.3 L435.8,1367.3 L435.9,1368.2 L436.1,1369.2 L436.3,1370.2 L436.4,1371.1 L436.6,1372.1 L436.7,1373.1 L436.9,1374.0 L437.1,1375.0 L437.2,1376.0 L437.4,1376.9 L437.6,1377.9 L437.7,1378.9 L437.9,1379.8 L438.0,1380.8 L438.2,1381.8 L438.4,1382.7 L438.5,1383.7 L438.7,1384.7 L438.8,1385.6 L439.0,1386.6 L439.2,1387.6 L439.3,1388.5 L439.5,1389.5 L439.7,1390.5 L439.8,1391.5 L440.0,1392.4 L440.1,1393.4 L440.3,1394.3 L440.4,1395.2 L440.5,1396.1 L440.6,1397.1 L440.7,1398.0 L440.9,1399.0 L441.1,1400.0 L441.3,1401.0 L441.6,1402.1 L442.1,1403.9 L442.8,1405.9 L443.5,1408.1 L444.3,1410.3 L445.1,1412.6 L446.0,1414.9 L446.9,1417.0 L447.8,1419.0 L448.7,1420.8 L449.6,1422.3 L450.1,1423.1 L450.6,1423.8 L451.1,1424.5 L451.6,1425.2 L452.1,1425.8 L452.6,1426.3 L453.1,1426.8 L453.7,1427.3 L454.3,1427.7 L455.0,1428.0 L455.9,1428.3 L456.8,1428.5 L457.8,1428.6 L458.8,1428.6 L459.9,1428.5 L461.0,1428.4 L462.1,1428.3 L463.2,1428.2 L464.3,1428.2 L465.3,1428.2 L466.4,1428.2 L467.4,1428.2 L468.4,1428.2 L469.5,1428.2 L470.5,1428.2 L471.5,1428.3 L472.6,1428.3 L473.6,1428.3 L474.6,1428.3 L475.7,1428.3 L476.7,1428.3 L477.7,1428.4 L478.8,1428.4 L479.8,1428.4 L480.8,1428.4 L481.9,1428.4 L482.9,1428.5 L483.9,1428.5 L485.0,1428.5 L486.0,1428.5" stroke="#da0c14" stroke-width="3.0" fill="none"/>
<path d="M84.0,1428.5 L85.1,1428.5 L86.2,1428.5 L87.3,1428.5 L88.5,1428.5 L89.6,1428.5 L90.7,1428.5 L91.8,1428.5 L92.9,1428.5 L94.0,1428.5 L95.1,1428.5 L96.3,1428.5 L97.4,1428.5 L98.5,1428.5 L99.6,1428.4 L100.7,1428.4 L101.8,1428.4 L102.9,1428.4 L104.0,1428.4 L105.2,1428.4 L106.3,1428.4 L107.4,1428.4 L108.5,1428.4 L109.6,1428.4 L110.7,1428.4 L111.8,1428.4 L113.0,1428.4 L114.1,1428.4 L115.2,1428.4 L116.3,1428.4 L117.4,1428.4 L118.5,1428.4 L119.6,1428.4 L120.8,1428.4 L121.9,1428.4 L123.0,1428.4 L124.1,1428.4 L125.2,1428.4 L126.3,1428.4 L127.4,1428.3 L128.6,1428.3 L129.7,1428.3 L130.8,1428.3 L131.9,1428.3 L133.0,1428.3 L134.1,1428.3 L135.2,1428.3 L136.4,1428.3 L137.5,1428.3 L138.6,1428.3 L139.7,1428.3 L140.8,1428.3 L141.9,1428.3 L143.0,1428.3 L144.1,1428.3 L145.3,1428.3 L146.4,1428.3 L147.5,1428.3 L148.6,1428.3 L149.7,1428.3 L150.8,1428.3 L151.9,1428.3 L153.1,1428.3 L154.2,1428.3 L155.3,1428.3 L156.4,1428.2 L157.5,1428.2 L158.6,1428.2 L159.7,1428.2 L160.9,1428.2 L162.0,1428.2 L163.1,1428.2 L164.2,1428.2 L165.3,1428.2 L166.4,1428.2 L167.5,1428.2 L168.7,1428.2 L169.8,1428.2 L170.9,1428.2 L172.0,1428.2 L173.1,1428.2 L174.2,1428.2 L175.3,1428.2 L176.4,1428.2 L177.6,1428.2 L178.7,1428.2 L179.8,1428.2 L180.9,1428.2 L182.0,1428.2 L183.1,1428.2 L184.2,1428.2 L185.4,1428.2 L186.5,1428.1 L187.6,1428.1 L188.7,1428.1 L189.8,1428.1 L190.9,1428.1 L192.0,1428.1 L193.2,1428.1 L194.3,1428.1 L195.4,1428.1 L196.5,1428.1 L197.6,1428.1 L198.7,1428.1 L199.8,1428.1 L201.0,1428.1 L202.1,1428.1 L203.2,1428.1 L204.3,1428.1 L205.4,1428.1 L206.5,1428.1 L207.6,1428.1 L208.8,1428.1 L209.9,1428.1 L211.0,1428.1 L212.1,1428.1 L213.2,1428.1 L214.3,1428.0 L215.4,1428.0 L216.5,1428.0 L217.7,1428.0 L218.8,1428.1 L220.0,1428.2 L221.3,1428.3 L222.6,1428.5 L223.8,1428.7 L225.0,1428.7 L226.2,1428.8 L227.2,1428.7 L228.1,1428.4 L228.8,1428.0 L229.3,1427.5 L229.7,1426.8 L229.9,1426.1 L230.1,1425.2 L230.2,1424.3 L230.3,1423.4 L230.4,1422.4 L230.5,1421.5 L230.6,1420.5 L230.7,1419.7 L230.9,1418.8 L231.1,1418.0 L231.3,1417.2 L231.5,1416.3 L231.7,1415.5 L231.9,1414.7 L232.1,1413.8 L232.3,1413.0 L232.5,1412.2 L232.7,1411.3 L232.9,1410.5 L233.1,1409.7 L233.3,1408.9 L233.5,1408.0 L233.7,1407.2 L233.9,1406.4 L234.1,1405.5 L234.2,1404.7 L234.4,1403.9 L234.6,1403.0 L234.8,1402.1 L234.9,1401.1 L235.1,1400.2 L235.2,1399.2 L235.4,1398.2 L235.5,1397.3 L235.6,1396.3 L235.8,1395.3 L235.9,1394.4 L236.1,1393.4 L236.2,1392.4 L236.3,1391.5 L236.5,1390.5 L236.6,1389.6 L236.8,1388.6 L236.9,1387.6 L237.1,1386.7 L237.2,1385.7 L237.4,1384.8 L237.5,1383.8 L237.6,1382.8 L237.8,1381.9 L237.9,1380.9 L238.1,1380.0 L238.2,1379.0 L238.4,1378.0 L238.5,1377.1 L238.7,1376.1 L238.8,1375.2 L238.9,1374.2 L239.1,1373.2 L239.2,1372.3 L239.4,1371.3 L239.6,1370.4 L239.7,1369.4 L239.9,1368.5 L240.0,1367.5 L240.1,1366.5 L240.3,1365.6 L240.4,1364.6 L240.5,1363.6 L240.6,1362.6 L240.7,1361.5 L240.8,1360.5 L240.9,1359.5 L241.0,1358.5 L241.1,1357.4 L241.2,1356.4 L241.3,1355.4 L241.4,1354.3 L241.5,1353.3 L241.6,1352.3 L241.7,1351.3 L241.8,1350.2 L241.8,1349.2 L241.9,1348.2 L242.0,1347.1 L242.1,1346.1 L242.2,1345.1 L242.3,1344.1 L242.4,1343.0 L242.5,1342.0 L242.6,1341.0 L242.7,1340.0 L242.8,1338.9 L242.9,1337.9 L243.0,1336.9 L243.1,1335.9 L243.2,1334.8 L243.3,1333.8 L243.4,1332.8 L243.5,1331.7 L243.6,1330.7 L243.7,1329.7 L243.8,1328.7 L243.9,1327.6 L244.0,1326.6 L244.1,1325.6 L244.2,1324.6 L244.3,1323.5 L244.4,1322.5 L244.5,1321.5 L244.6,1320.5 L244.7,1319.4 L244.7,1318.4 L244.8,1317.4 L244.9,1316.3 L245.0,1315.3 L245.1,1314.3 L245.2,1313.3 L245.3,1312.2 L245.4,1311.2 L245.5,1310.2 L245.6,1309.2 L245.7,1308.2 L245.8,1307.1 L245.9,1306.1 L246.0,1305.1 L246.1,1304.0 L246.2,1303.0 L246.3,1301.9 L246.4,1300.8 L246.5,1299.8 L246.6,1298.7 L246.7,1297.6 L246.8,1296.5 L246.9,1295.4 L247.0,1294.3 L247.1,1293.2 L247.1,1292.1 L247.2,1291.0 L247.3,1289.9 L247.4,1288.9 L247.5,1287.8 L247.6,1286.7 L247.7,1285.6 L247.8,1284.5 L247.9,1283.4 L248.0,1282.3 L248.1,1281.2 L248.2,1280.1 L248.3,1279.1 L248.4,1278.0 L248.5,1276.9 L248.6,1275.8 L248.7,1274.7 L248.8,1273.6 L248.9,1272.5 L249.0,1271.4 L249.1,1270.3 L249.1,1269.3 L249.2,1268.2 L249.3,1267.1 L249.4,1266.0 L249.5,1264.9 L249.6,1263.8 L249.7,1262.7 L249.8,1261.6 L249.9,1260.6 L250.0,1259.5 L250.1,1258.4 L250.2,1257.3 L250.3,1256.2 L250.4,1255.1 L250.5,1254.0 L250.6,1252.9 L250.7,1251.8 L250.8,1250.8 L250.9,1249.7 L250.9,1248.6 L251.0,1247.5 L251.1,1246.4 L251.2,1245.3 L251.3,1244.2 L251.4,1243.1 L251.5,1242.0 L251.6,1240.9 L251.7,1239.8 L251.8,1238.8 L251.9,1237.7 L252.0,1236.7 L252.1,1235.8 L252.2,1234.8 L252.3,1233.8 L252.5,1232.9 L252.6,1231.9 L252.7,1231.0 L252.8,1230.1 L252.9,1229.1 L253.1,1228.2 L253.2,1227.2 L253.3,1226.3 L253.4,1225.3 L253.5,1224.3 L253.6,1223.4 L253.8,1222.4 L253.9,1221.5 L254.0,1220.5 L254.1,1219.6 L254.2,1218.6 L254.3,1217.7 L254.5,1216.7 L254.6,1215.8 L254.7,1214.8 L254.8,1213.8 L254.9,1212.9 L255.0,1211.9 L255.1,1211.0 L255.3,1210.0 L255.4,1209.1 L255.5,1208.1 L255.6,1207.2 L255.7,1206.2 L255.8,1205.3 L256.0,1204.3 L256.1,1203.4 L256.2,1202.4 L256.3,1201.4 L256.4,1200.5 L256.5,1199.5 L256.7,1198.6 L256.8,1197.6 L256.9,1196.7 L257.0,1195.8 L257.1,1194.8 L257.2,1193.9 L257.3,1192.9 L257.5,1192.0 L257.6,1191.0 L257.7,1190.0 L257.8,1188.9 L258.0,1187.8 L258.1,1186.6 L258.2,1185.5 L258.4,1184.3 L258.5,1183.2 L258.6,1182.0 L258.8,1180.9 L258.9,1179.7 L259.1,1178.5 L259.2,1177.4 L259.3,1176.3 L259.5,1175.1 L259.6,1174.0 L259.7,1172.8 L259.9,1171.7 L260.0,1170.5 L260.1,1169.4 L260.3,1168.2 L260.4,1167.1 L260.5,1166.0 L260.7,1164.8 L260.8,1163.7 L260.9,1162.5 L261.1,1161.4 L261.2,1160.2 L261.3,1159.1 L261.5,1157.9 L261.6,1156.8 L261.8,1155.7 L261.9,1154.5 L262.0,1153.4 L262.1,1152.2 L262.3,1151.1 L262.4,1149.9 L262.5,1148.8 L262.7,1147.6 L262.8,1146.5 L262.9,1145.3 L263.1,1144.2 L263.3,1143.0 L263.4,1141.9 L263.6,1140.7 L263.8,1139.5 L264.0,1138.4 L264.2,1137.2 L264.3,1136.0 L264.5,1134.9 L264.7,1133.7 L264.9,1132.5 L265.1,1131.4 L265.3,1130.2 L265.4,1129.0 L265.6,1127.9 L265.8,1126.7 L266.0,1125.5 L266.2,1124.4 L266.3,1123.2 L266.5,1122.0 L266.7,1120.9 L266.9,1119.7 L267.1,1118.5 L267.2,1117.3 L267.4,1116.1 L267.6,1114.9 L267.8,1113.8 L267.9,1112.6 L268.1,1111.4 L268.3,1110.3 L268.5,1109.2 L268.7,1108.3 L268.8,1107.3 L269.0,1106.4 L269.2,1105.5 L269.4,1104.6 L269.6,1103.8 L269.7,1102.9 L269.9,1102.0 L270.1,1101.1 L270.3,1100.2 L270.4,1099.3 L270.6,1098.4 L270.8,1097.5 L271.0,1096.6 L271.1,1095.8 L271.3,1094.9 L271.5,1094.0 L271.7,1093.1 L271.9,1092.2 L272.0,1091.3 L272.2,1090.4 L272.3,1089.5 L272.4,1088.6 L272.5,1087.7 L272.7,1086.8 L272.8,1085.9 L273.0,1085.0 L273.2,1084.1 L273.5,1083.2 L273.8,1082.3 L274.3,1081.1 L274.9,1079.8 L275.6,1078.4 L276.3,1077.0 L277.1,1075.6 L277.9,1074.3 L278.8,1073.1 L279.8,1071.9 L280.8,1071.0 L281.9,1070.2 L283.0,1069.6 L284.2,1069.1 L285.5,1068.8 L286.9,1068.5 L288.3,1068.4 L289.7,1068.3 L291.1,1068.3 L292.6,1068.4 L294.0,1068.6 L295.4,1068.8 L297.0,1069.2 L298.6,1069.9 L300.3,1070.8 L301.9,1071.8 L303.6,1072.9 L305.2,1074.0 L306.8,1075.0 L308.4,1075.8 L310.0,1076.5 L311.5,1076.9 L312.6,1077.1 L313.7,1077.1 L314.8,1077.1 L315.8,1077.0 L316.9,1076.8 L317.9,1076.6 L319.0,1076.4 L320.0,1076.1 L321.2,1075.9 L322.3,1075.6 L323.8,1075.2 L325.4,1074.7 L327.1,1074.0 L328.8,1073.3 L330.6,1072.6 L332.3,1071.9 L333.9,1071.3 L335.6,1070.8 L337.1,1070.4 L338.5,1070.2 L339.4,1070.1 L340.3,1070.1 L341.1,1070.1 L341.9,1070.2 L342.7,1070.3 L343.5,1070.4 L344.3,1070.6 L345.0,1070.9 L345.8,1071.1 L346.5,1071.5 L347.4,1072.0 L348.3,1072.6 L349.1,1073.2 L350.0,1074.0 L350.8,1074.8 L351.6,1075.6 L352.4,1076.6 L353.2,1077.5 L353.9,1078.5 L354.6,1079.6 L355.5,1081.1 L356.3,1082.8 L357.1,1084.5 L357.8,1086.4 L358.5,1088.4 L359.1,1090.4 L359.7,1092.4 L360.3,1094.5 L360.9,1096.5 L361.5,1098.5 L362.1,1100.6 L362.6,1102.8 L363.2,1105.1 L363.7,1107.5 L364.2,1109.8 L364.6,1112.0 L365.1,1114.2 L365.5,1116.3 L365.9,1118.3 L366.2,1120.0 L366.4,1121.0 L366.6,1121.9 L366.7,1122.7 L366.9,1123.6 L367.0,1124.3 L367.2,1125.1 L367.3,1125.9 L367.4,1126.6 L367.6,1127.4 L367.7,1128.2 L367.9,1129.0 L368.0,1129.8 L368.2,1130.7 L368.3,1131.5 L368.5,1132.3 L368.7,1133.1 L368.8,1133.9 L369.0,1134.8 L369.1,1135.6 L369.3,1136.4 L369.4,1137.2 L369.6,1138.0 L369.7,1138.8 L369.9,1139.7 L370.0,1140.5 L370.2,1141.3 L370.3,1142.1 L370.5,1142.9 L370.7,1143.8 L370.8,1144.6 L371.0,1145.5 L371.1,1146.4 L371.3,1147.3 L371.4,1148.3 L371.6,1149.2 L371.7,1150.1 L371.9,1151.0 L372.0,1152.0 L372.2,1152.9 L372.3,1153.8 L372.5,1154.8 L372.6,1155.7 L372.8,1156.6 L372.9,1157.5 L373.1,1158.4 L373.3,1159.4 L373.4,1160.3 L373.6,1161.2 L373.7,1162.1 L373.9,1163.1 L374.0,1164.0 L374.2,1164.9 L374.3,1165.8 L374.5,1166.8 L374.7,1167.7 L374.8,1168.6 L375.0,1169.5 L375.1,1170.5 L375.3,1171.4 L375.4,1172.3 L375.5,1173.2 L375.6,1174.1 L375.7,1175.1 L375.8,1176.0 L375.9,1176.9 L376.0,1177.8 L376.1,1178.8 L376.2,1179.7 L376.3,1180.6 L376.4,1181.5 L376.5,1182.5 L376.6,1183.4 L376.7,1184.3 L376.8,1185.2 L377.0,1186.2 L377.1,1187.1 L377.2,1188.0 L377.3,1188.9 L377.4,1189.8 L377.5,1190.8 L377.6,1191.7 L377.6,1192.6 L377.7,1193.4 L377.8,1194.3 L377.9,1195.2 L378.0,1196.1 L378.1,1197.0 L378.2,1197.9 L378.3,1198.9 L378.5,1200.0 L378.8,1201.8 L379.2,1203.7 L379.7,1205.8 L380.2,1207.9 L380.8,1210.2 L381.3,1212.4 L381.8,1214.6 L382.3,1216.7 L382.7,1218.6 L383.0,1220.4 L383.2,1221.5 L383.3,1222.6 L383.4,1223.6 L383.5,1224.5 L383.5,1225.5 L383.6,1226.4 L383.6,1227.3 L383.7,1228.2 L383.7,1229.1 L383.8,1230.1 L383.9,1231.1 L384.0,1232.0 L384.0,1233.0 L384.1,1234.0 L384.2,1235.0 L384.3,1235.9 L384.4,1236.9 L384.4,1237.9 L384.5,1238.8 L384.6,1239.8 L384.7,1240.8 L384.8,1241.7 L384.8,1242.7 L384.9,1243.7 L385.0,1244.7 L385.1,1245.6 L385.2,1246.6 L385.2,1247.6 L385.3,1248.5 L385.4,1249.5 L385.5,1250.5 L385.6,1251.4 L385.6,1252.4 L385.7,1253.4 L385.8,1254.3 L385.9,1255.3 L386.0,1256.3 L386.0,1257.3 L386.1,1258.2 L386.2,1259.2 L386.3,1260.2 L386.4,1261.1 L386.4,1262.1 L386.5,1263.1 L386.6,1264.0 L386.7,1265.0 L386.7,1266.0 L386.8,1266.9 L386.9,1267.9 L387.0,1268.9 L387.1,1269.9 L387.2,1271.0 L387.3,1272.0 L387.5,1273.1 L387.6,1274.1 L387.7,1275.2 L387.8,1276.2 L388.0,1277.3 L388.1,1278.3 L388.2,1279.4 L388.3,1280.5 L388.5,1281.5 L388.6,1282.6 L388.7,1283.6 L388.8,1284.7 L389.0,1285.7 L389.1,1286.8 L389.2,1287.8 L389.3,1288.9 L389.4,1289.9 L389.6,1290.9 L389.7,1292.0 L389.8,1293.0 L389.9,1294.1 L390.1,1295.2 L390.2,1296.2 L390.3,1297.2 L390.4,1298.3 L390.5,1299.3 L390.7,1300.4 L390.8,1301.4 L390.9,1302.5 L391.0,1303.6 L391.1,1304.6 L391.3,1305.7 L391.4,1306.7 L391.5,1307.8 L391.6,1308.8 L391.8,1309.9 L391.9,1310.9 L392.0,1312.0 L392.1,1313.0 L392.2,1314.1 L392.3,1315.1 L392.5,1316.2 L392.6,1317.2 L392.7,1318.3 L392.8,1319.3 L393.0,1320.4 L393.1,1321.4 L393.2,1322.5 L393.4,1323.5 L393.6,1324.6 L393.7,1325.6 L393.9,1326.7 L394.1,1327.7 L394.2,1328.8 L394.4,1329.8 L394.6,1330.9 L394.7,1331.9 L394.9,1333.0 L395.0,1334.0 L395.2,1335.1 L395.4,1336.1 L395.5,1337.2 L395.7,1338.2 L395.9,1339.2 L396.0,1340.3 L396.2,1341.3 L396.3,1342.4 L396.5,1343.5 L396.7,1344.5 L396.8,1345.6 L397.0,1346.6 L397.1,1347.7 L397.3,1348.7 L397.5,1349.8 L397.6,1350.8 L397.8,1351.9 L398.0,1352.9 L398.1,1354.0 L398.3,1355.0 L398.4,1356.1 L398.6,1357.1 L398.8,1358.2 L398.9,1359.2 L399.1,1360.2 L399.3,1361.3 L399.4,1362.4 L399.6,1363.4 L399.7,1364.5 L399.9,1365.5 L400.0,1366.6 L400.2,1367.6 L400.4,1368.7 L400.5,1369.8 L400.7,1370.8 L400.8,1371.9 L401.0,1372.9 L401.2,1373.9 L401.4,1374.8 L401.6,1375.8 L401.8,1376.7 L402.0,1377.6 L402.2,1378.5 L402.4,1379.4 L402.6,1380.3 L402.8,1381.2 L403.0,1382.1 L403.2,1383.0 L403.4,1383.9 L403.6,1384.8 L403.8,1385.7 L404.0,1386.6 L404.2,1387.5 L404.4,1388.4 L404.6,1389.3 L404.8,1390.2 L405.0,1391.1 L405.2,1392.1 L405.4,1393.0 L405.6,1393.9 L405.8,1394.8 L406.0,1395.7 L406.2,1396.6 L406.4,1397.5 L406.6,1398.4 L406.8,1399.3 L407.0,1400.2 L407.2,1401.1 L407.4,1402.0 L407.5,1402.9 L407.7,1403.8 L407.8,1404.7 L408.0,1405.6 L408.1,1406.5 L408.3,1407.4 L408.6,1408.3 L408.9,1409.2 L409.2,1410.2 L409.8,1411.6 L410.4,1413.0 L411.2,1414.6 L412.0,1416.2 L412.9,1417.8 L413.8,1419.3 L414.7,1420.8 L415.6,1422.2 L416.5,1423.4 L417.3,1424.4 L417.8,1424.9 L418.2,1425.4 L418.6,1425.8 L419.1,1426.3 L419.5,1426.6 L419.9,1427.0 L420.4,1427.3 L420.9,1427.5 L421.4,1427.8 L422.0,1428.0 L422.9,1428.2 L423.8,1428.4 L424.8,1428.4 L425.9,1428.4 L427.0,1428.4 L428.2,1428.3 L429.3,1428.2 L430.5,1428.2 L431.6,1428.1 L432.7,1428.1 L433.7,1428.1 L434.8,1428.1 L435.9,1428.1 L436.9,1428.1 L438.0,1428.1 L439.1,1428.1 L440.1,1428.1 L441.2,1428.2 L442.3,1428.2 L443.3,1428.2 L444.4,1428.2 L445.5,1428.2 L446.5,1428.2 L447.6,1428.2 L448.7,1428.2 L449.7,1428.2 L450.8,1428.2 L451.9,1428.2 L452.9,1428.2 L454.0,1428.2 L455.1,1428.3 L456.1,1428.3 L457.2,1428.3 L458.3,1428.3 L459.3,1428.3 L460.4,1428.3 L461.5,1428.3 L462.5,1428.3 L463.6,1428.3 L464.7,1428.3 L465.7,1428.3 L466.8,1428.4 L467.9,1428.4 L468.9,1428.4 L470.0,1428.4 L471.1,1428.4 L472.1,1428.4 L473.2,1428.4 L474.3,1428.4 L475.3,1428.4 L476.4,1428.4 L477.5,1428.4 L478.5,1428.4 L479.6,1428.5 L480.7,1428.5 L481.7,1428.5 L482.8,1428.5 L483.9,1428.5 L484.9,1428.5 L486.0,1428.5" stroke="#da0c14" stroke-width="3.1" fill="none" stroke-dasharray="4.5 1.6"/>
<path d="M84.0,1425.5 L86.5,1425.6 L89.1,1425.7 L91.8,1426.0 L94.5,1426.2 L97.2,1426.5 L99.8,1426.6 L102.2,1426.6 L104.3,1426.5 L106.2,1426.1 L107.7,1425.5 L108.4,1425.0 L108.9,1424.5 L109.4,1423.9 L109.8,1423.3 L110.1,1422.6 L110.4,1421.8 L110.7,1421.1 L110.9,1420.2 L111.2,1419.4 L111.5,1418.5 L112.0,1417.0 L112.5,1415.3 L112.9,1413.5 L113.3,1411.5 L113.7,1409.5 L114.1,1407.5 L114.4,1405.4 L114.7,1403.5 L115.0,1401.7 L115.2,1400.0 L115.3,1398.9 L115.5,1397.8 L115.6,1396.8 L115.7,1395.8 L115.7,1394.8 L115.8,1393.9 L115.9,1392.9 L115.9,1392.0 L116.0,1391.0 L116.1,1390.0 L116.2,1389.0 L116.2,1388.0 L116.3,1387.0 L116.4,1386.0 L116.5,1385.0 L116.6,1384.0 L116.7,1383.0 L116.8,1382.0 L116.9,1381.0 L116.9,1380.0 L117.0,1379.0 L117.1,1378.0 L117.2,1377.0 L117.3,1376.0 L117.4,1375.0 L117.5,1374.0 L117.6,1373.0 L117.7,1372.0 L117.7,1371.0 L117.8,1370.0 L117.9,1369.0 L118.0,1368.0 L118.1,1367.0 L118.2,1366.0 L118.3,1365.0 L118.4,1364.0 L118.4,1363.0 L118.5,1362.0 L118.6,1361.0 L118.7,1360.0 L118.8,1359.0 L118.9,1358.0 L119.0,1357.0 L119.0,1356.0 L119.1,1355.0 L119.2,1354.0 L119.3,1353.0 L119.4,1352.0 L119.5,1351.0 L119.5,1350.0 L119.6,1349.0 L119.7,1348.0 L119.8,1347.0 L119.9,1346.0 L120.0,1345.0 L120.1,1344.0 L120.1,1343.0 L120.2,1342.0 L120.3,1341.0 L120.4,1340.0 L120.5,1339.0 L120.6,1338.0 L120.7,1337.0 L120.7,1336.0 L120.8,1335.0 L120.9,1334.0 L121.0,1333.0 L121.1,1332.0 L121.2,1331.0 L121.3,1330.0 L121.3,1329.0 L121.4,1328.0 L121.5,1327.0 L121.6,1326.0 L121.7,1325.0 L121.8,1324.0 L121.8,1323.0 L121.9,1322.0 L122.0,1321.0 L122.1,1320.0 L122.2,1319.0 L122.3,1318.0 L122.4,1317.0 L122.4,1316.0 L122.5,1315.0 L122.6,1314.0 L122.7,1313.0 L122.8,1312.0 L122.9,1311.0 L123.0,1310.0 L123.0,1309.0 L123.1,1308.0 L123.2,1307.0 L123.3,1306.0 L123.4,1305.0 L123.5,1304.0 L123.5,1303.0 L123.6,1302.0 L123.7,1301.0 L123.8,1300.0 L123.9,1299.0 L124.0,1298.0 L124.1,1297.0 L124.2,1296.0 L124.3,1295.0 L124.4,1294.0 L124.5,1293.0 L124.6,1292.0 L124.6,1291.0 L124.7,1290.0 L124.8,1289.0 L124.9,1288.0 L125.0,1287.0 L125.1,1286.0 L125.2,1285.0 L125.3,1284.0 L125.4,1283.0 L125.5,1282.0 L125.6,1281.0 L125.7,1280.0 L125.8,1279.0 L125.9,1278.0 L126.0,1277.0 L126.1,1276.0 L126.2,1275.0 L126.2,1274.0 L126.3,1273.0 L126.4,1272.0 L126.5,1271.0 L126.6,1270.0 L126.7,1269.0 L126.8,1268.0 L126.9,1267.0 L127.0,1266.0 L127.1,1265.0 L127.2,1264.0 L127.3,1263.0 L127.4,1262.0 L127.5,1261.0 L127.6,1260.0 L127.7,1259.0 L127.7,1258.0 L127.8,1257.0 L127.9,1256.0 L128.0,1255.0 L128.1,1254.0 L128.2,1253.0 L128.3,1252.0 L128.4,1251.0 L128.5,1250.0 L128.6,1249.0 L128.7,1248.0 L128.8,1247.0 L128.9,1246.0 L129.0,1245.0 L129.1,1244.0 L129.2,1243.0 L129.3,1242.0 L129.4,1241.0 L129.5,1240.0 L129.6,1239.0 L129.7,1238.0 L129.8,1237.0 L129.9,1236.0 L130.0,1235.0 L130.1,1234.0 L130.2,1233.0 L130.3,1232.0 L130.4,1231.0 L130.5,1230.0 L130.6,1229.0 L130.7,1228.0 L130.8,1227.0 L130.9,1226.0 L131.0,1225.0 L131.1,1224.0 L131.2,1223.0 L131.3,1222.0 L131.4,1221.0 L131.5,1220.0 L131.6,1219.0 L131.7,1218.0 L131.8,1217.0 L131.9,1216.0 L132.0,1215.0 L132.1,1214.0 L132.2,1213.0 L132.3,1212.0 L132.4,1211.0 L132.5,1210.0 L132.6,1209.0 L132.7,1208.1 L132.8,1207.1 L132.9,1206.2 L132.9,1205.2 L133.0,1204.2 L133.1,1203.2 L133.2,1202.2 L133.4,1201.1 L133.5,1200.0 L133.7,1198.2 L134.0,1196.3 L134.3,1194.3 L134.6,1192.2 L134.9,1190.0 L135.2,1187.9 L135.6,1185.8 L135.9,1183.7 L136.2,1181.8 L136.5,1180.0 L136.7,1178.8 L136.9,1177.6 L137.1,1176.5 L137.4,1175.4 L137.6,1174.4 L137.8,1173.4 L138.0,1172.4 L138.2,1171.3 L138.4,1170.3 L138.6,1169.2 L138.8,1168.1 L139.1,1167.1 L139.3,1166.0 L139.5,1164.9 L139.7,1163.8 L139.9,1162.8 L140.1,1161.7 L140.3,1160.6 L140.5,1159.5 L140.8,1158.5 L141.0,1157.4 L141.2,1156.3 L141.4,1155.2 L141.6,1154.1 L141.8,1153.1 L142.0,1152.0 L142.2,1150.9 L142.5,1149.8 L142.7,1148.8 L142.9,1147.7 L143.1,1146.6 L143.2,1145.5 L143.4,1144.5 L143.6,1143.4 L143.7,1142.4 L143.9,1141.3 L144.1,1140.2 L144.3,1139.1 L144.6,1138.0 L145.0,1136.9 L145.5,1135.4 L146.1,1133.9 L146.8,1132.3 L147.5,1130.7 L148.2,1129.1 L149.0,1127.5 L149.9,1125.9 L150.8,1124.4 L151.7,1122.9 L152.7,1121.5 L153.7,1120.2 L154.7,1118.9 L155.8,1117.7 L156.9,1116.5 L158.0,1115.4 L159.2,1114.3 L160.4,1113.2 L161.6,1112.1 L162.9,1111.0 L164.2,1110.0 L165.6,1108.9 L167.1,1107.9 L168.6,1106.9 L170.1,1105.9 L171.7,1104.9 L173.2,1104.0 L174.8,1103.1 L176.4,1102.2 L178.0,1101.3 L179.6,1100.4 L181.1,1099.6 L182.6,1098.7 L184.2,1097.9 L185.7,1097.1 L187.3,1096.3 L188.8,1095.6 L190.3,1094.8 L191.9,1094.1 L193.4,1093.4 L195.0,1092.7 L196.5,1092.1 L198.1,1091.5 L199.6,1090.9 L201.2,1090.3 L202.7,1089.8 L204.2,1089.3 L205.8,1088.7 L207.3,1088.1 L208.9,1087.5 L210.4,1086.9 L212.0,1086.2 L213.5,1085.5 L215.1,1084.7 L216.7,1083.9 L218.3,1083.1 L219.8,1082.3 L221.4,1081.5 L222.9,1080.7 L224.4,1079.9 L225.8,1079.2 L227.0,1078.6 L228.2,1078.0 L229.4,1077.4 L230.5,1076.8 L231.6,1076.3 L232.8,1075.7 L233.9,1075.1 L235.0,1074.6 L236.2,1074.0 L237.3,1073.5 L238.4,1072.9 L239.6,1072.4 L240.7,1071.8 L241.9,1071.2 L243.0,1070.6 L244.2,1070.0 L245.3,1069.5 L246.5,1069.1 L247.6,1068.7 L248.8,1068.5 L249.9,1068.3 L251.1,1068.2 L252.3,1068.1 L253.5,1068.1 L254.7,1068.1 L255.9,1068.2 L257.1,1068.4 L258.2,1068.7 L259.3,1069.1 L260.4,1069.6 L261.7,1070.4 L263.0,1071.4 L264.3,1072.7 L265.6,1074.0 L266.8,1075.5 L268.0,1077.0 L269.1,1078.6 L270.1,1080.1 L271.1,1081.6 L271.9,1083.0 L272.5,1084.0 L273.0,1085.1 L273.4,1086.1 L273.8,1087.1 L274.1,1088.1 L274.4,1089.2 L274.8,1090.2 L275.1,1091.2 L275.4,1092.2 L275.8,1093.3 L276.2,1094.3 L276.5,1095.3 L276.9,1096.3 L277.3,1097.4 L277.7,1098.4 L278.1,1099.4 L278.5,1100.5 L278.9,1101.5 L279.2,1102.5 L279.6,1103.5 L280.0,1104.6 L280.4,1105.6 L280.8,1106.6 L281.2,1107.6 L281.7,1108.6 L282.1,1109.6 L282.4,1110.7 L282.8,1111.7 L283.2,1112.7 L283.5,1113.8 L283.8,1114.9 L284.1,1116.1 L284.4,1117.2 L284.6,1118.4 L284.9,1119.5 L285.1,1120.7 L285.3,1121.9 L285.6,1123.0 L285.8,1124.2 L286.1,1125.4 L286.3,1126.5 L286.6,1127.7 L286.8,1128.8 L287.1,1130.0 L287.4,1131.2 L287.6,1132.3 L287.9,1133.5 L288.1,1134.6 L288.4,1135.8 L288.6,1136.9 L288.9,1138.1 L289.2,1139.3 L289.5,1140.4 L289.8,1141.6 L290.0,1142.8 L290.3,1143.9 L290.6,1145.1 L290.8,1146.2 L291.0,1147.4 L291.2,1148.5 L291.3,1149.5 L291.4,1150.6 L291.5,1151.6 L291.6,1152.7 L291.6,1153.7 L291.6,1154.7 L291.7,1155.7 L291.7,1156.7 L291.7,1157.8 L291.8,1158.8 L291.9,1159.8 L291.9,1160.9 L292.0,1161.9 L292.0,1162.9 L292.1,1163.9 L292.2,1165.0 L292.2,1166.0 L292.3,1167.0 L292.3,1168.1 L292.4,1169.1 L292.5,1170.1 L292.5,1171.2 L292.6,1172.2 L292.6,1173.2 L292.7,1174.2 L292.8,1175.3 L292.8,1176.3 L292.9,1177.3 L292.9,1178.4 L293.0,1179.4 L293.1,1180.4 L293.1,1181.5 L293.2,1182.5 L293.2,1183.5 L293.3,1184.6 L293.4,1185.6 L293.4,1186.6 L293.5,1187.6 L293.5,1188.7 L293.6,1189.7 L293.7,1190.7 L293.7,1191.8 L293.7,1192.8 L293.8,1193.8 L293.8,1194.9 L293.9,1195.9 L293.9,1196.9 L294.0,1198.0 L294.1,1199.0 L294.2,1200.0 L294.3,1201.0 L294.5,1202.0 L294.6,1203.0 L294.8,1204.0 L295.0,1205.0 L295.2,1206.0 L295.4,1207.0 L295.6,1208.0 L295.8,1209.0 L296.0,1210.0 L296.1,1211.0 L296.3,1212.0 L296.5,1213.0 L296.7,1214.0 L296.8,1215.0 L297.0,1216.0 L297.2,1217.0 L297.4,1218.0 L297.5,1219.0 L297.7,1220.0 L297.9,1221.0 L298.1,1222.0 L298.2,1223.0 L298.4,1224.0 L298.6,1225.0 L298.8,1226.0 L299.0,1227.0 L299.1,1228.0 L299.3,1229.0 L299.5,1230.0 L299.7,1231.0 L299.8,1232.0 L300.0,1233.0 L300.2,1234.0 L300.4,1235.0 L300.5,1236.0 L300.7,1237.0 L300.9,1238.0 L301.1,1239.0 L301.2,1240.0 L301.4,1241.0 L301.6,1242.0 L301.8,1243.0 L302.0,1244.0 L302.1,1245.0 L302.3,1246.0 L302.5,1247.0 L302.7,1248.0 L302.8,1249.0 L303.0,1250.0 L303.2,1251.0 L303.3,1252.0 L303.5,1253.0 L303.6,1254.0 L303.8,1255.0 L303.9,1256.0 L304.1,1257.0 L304.3,1258.0 L304.4,1259.0 L304.6,1260.0 L304.7,1261.0 L304.9,1262.0 L305.0,1263.0 L305.2,1264.0 L305.3,1265.0 L305.5,1266.0 L305.7,1267.0 L305.8,1268.0 L306.0,1269.0 L306.1,1270.0 L306.3,1271.0 L306.4,1272.0 L306.6,1273.0 L306.7,1274.0 L306.9,1275.0 L307.1,1276.0 L307.2,1277.0 L307.4,1278.0 L307.5,1279.0 L307.7,1280.0 L307.8,1281.0 L308.0,1282.0 L308.1,1283.0 L308.3,1284.0 L308.5,1285.0 L308.6,1286.0 L308.8,1287.0 L308.9,1288.0 L309.1,1289.0 L309.2,1290.0 L309.4,1291.0 L309.5,1292.0 L309.7,1293.0 L309.8,1294.0 L310.0,1295.0 L310.2,1296.0 L310.3,1297.0 L310.5,1298.0 L310.6,1299.0 L310.8,1300.0 L311.0,1301.0 L311.2,1302.0 L311.3,1303.0 L311.5,1304.0 L311.7,1305.0 L311.9,1306.0 L312.1,1307.0 L312.3,1308.0 L312.5,1309.0 L312.7,1310.0 L312.9,1311.0 L313.1,1312.0 L313.3,1313.0 L313.5,1314.0 L313.6,1315.0 L313.8,1316.0 L314.0,1317.0 L314.2,1318.0 L314.4,1319.0 L314.6,1320.0 L314.8,1321.0 L315.0,1322.0 L315.2,1323.0 L315.3,1324.0 L315.5,1325.0 L315.7,1326.0 L315.9,1327.0 L316.1,1328.0 L316.3,1329.0 L316.5,1330.0 L316.7,1331.0 L316.9,1332.0 L317.1,1333.0 L317.3,1334.0 L317.6,1335.0 L317.8,1336.0 L318.0,1337.0 L318.2,1338.0 L318.4,1339.0 L318.6,1340.0 L318.8,1341.0 L319.1,1342.0 L319.3,1343.0 L319.5,1344.0 L319.7,1345.0 L319.9,1346.0 L320.1,1347.0 L320.3,1348.0 L320.6,1349.0 L320.8,1350.0 L321.0,1351.0 L321.2,1352.0 L321.4,1353.0 L321.6,1354.0 L321.8,1355.0 L322.1,1356.0 L322.3,1357.0 L322.5,1358.0 L322.7,1359.0 L322.9,1360.0 L323.1,1361.0 L323.3,1362.0 L323.5,1363.0 L323.7,1364.0 L323.8,1365.0 L324.0,1366.0 L324.2,1367.0 L324.4,1368.0 L324.6,1369.0 L324.8,1370.0 L325.0,1371.0 L325.1,1372.0 L325.3,1373.0 L325.5,1374.0 L325.7,1375.0 L325.9,1376.0 L326.1,1377.0 L326.3,1378.0 L326.4,1379.0 L326.6,1380.0 L326.8,1381.0 L327.0,1381.9 L327.1,1382.9 L327.3,1383.8 L327.5,1384.7 L327.6,1385.7 L327.8,1386.7 L328.0,1387.7 L328.3,1388.8 L328.5,1390.0 L328.9,1392.1 L329.4,1394.4 L329.9,1396.9 L330.4,1399.6 L331.0,1402.3 L331.6,1405.0 L332.3,1407.6 L333.0,1410.1 L333.7,1412.3 L334.5,1414.2 L335.0,1415.3 L335.6,1416.3 L336.1,1417.3 L336.7,1418.2 L337.2,1419.1 L337.9,1419.8 L338.5,1420.6 L339.2,1421.2 L339.9,1421.8 L340.6,1422.3 L341.3,1422.7 L342.0,1422.9 L342.8,1423.1 L343.6,1423.2 L344.4,1423.3 L345.2,1423.4 L346.1,1423.4 L346.9,1423.4 L347.8,1423.4 L348.7,1423.5 L349.8,1423.6 L350.9,1423.6 L352.0,1423.6 L353.1,1423.6 L354.3,1423.6 L355.5,1423.6 L356.6,1423.6 L357.8,1423.6 L359.0,1423.5 L360.1,1423.5 L361.3,1423.5 L362.4,1423.5 L363.6,1423.6 L364.7,1423.6 L365.9,1423.6 L367.0,1423.6 L368.2,1423.6 L369.3,1423.6 L370.4,1423.6 L371.6,1423.6 L372.7,1423.6 L373.9,1423.6 L375.0,1423.6 L376.2,1423.6 L377.3,1423.6 L378.4,1423.6 L379.6,1423.6 L380.7,1423.6 L381.9,1423.6 L383.0,1423.6 L384.2,1423.6 L385.3,1423.6 L386.5,1423.6 L387.6,1423.6 L388.7,1423.6 L389.9,1423.7 L391.0,1423.7 L392.2,1423.7 L393.3,1423.7 L394.5,1423.7 L395.6,1423.7 L396.8,1423.7 L397.9,1423.7 L399.0,1423.7 L400.2,1423.7 L401.3,1423.7 L402.5,1423.7 L403.6,1423.7 L404.8,1423.7 L405.9,1423.7 L407.1,1423.7 L408.2,1423.7 L409.3,1423.7 L410.5,1423.7 L411.6,1423.7 L412.8,1423.7 L413.9,1423.7 L415.1,1423.7 L416.2,1423.7 L417.4,1423.8 L418.5,1423.8 L419.6,1423.8 L420.8,1423.8 L421.9,1423.8 L423.1,1423.8 L424.2,1423.8 L425.4,1423.8 L426.5,1423.8 L427.6,1423.8 L428.8,1423.8 L429.9,1423.8 L431.1,1423.8 L432.2,1423.8 L433.4,1423.8 L434.5,1423.8 L435.7,1423.8 L436.8,1423.8 L437.9,1423.8 L439.1,1423.8 L440.2,1423.8 L441.4,1423.8 L442.5,1423.8 L443.7,1423.8 L444.8,1423.8 L446.0,1423.9 L447.1,1423.9 L448.2,1423.9 L449.4,1423.9 L450.5,1423.9 L451.7,1423.9 L452.8,1423.9 L454.0,1423.9 L455.1,1423.9 L456.3,1423.9 L457.4,1423.9 L458.5,1423.9 L459.7,1423.9 L460.8,1423.9 L462.0,1423.9 L463.1,1423.9 L464.3,1423.9 L465.4,1423.9 L466.5,1423.9 L467.7,1423.9 L468.8,1423.9 L470.0,1423.9 L471.1,1423.9 L472.3,1423.9 L473.4,1424.0 L474.6,1424.0 L475.7,1424.0 L476.8,1424.0 L478.0,1424.0 L479.1,1424.0 L480.3,1424.0 L481.4,1424.0 L482.6,1424.0 L483.7,1424.0 L484.9,1424.0 L486.0,1424.0" stroke="#0a0ac8" stroke-width="3.0" fill="none"/>
<path d="M84.0,1424.5 L85.1,1424.5 L86.2,1424.5 L87.3,1424.5 L88.4,1424.5 L89.5,1424.5 L90.6,1424.5 L91.7,1424.5 L92.8,1424.5 L93.9,1424.5 L95.0,1424.5 L96.1,1424.5 L97.2,1424.5 L98.3,1424.5 L99.4,1424.5 L100.5,1424.5 L101.6,1424.5 L102.7,1424.4 L103.8,1424.4 L104.9,1424.4 L106.0,1424.4 L107.1,1424.4 L108.2,1424.4 L109.3,1424.4 L110.4,1424.4 L111.5,1424.4 L112.7,1424.4 L113.8,1424.4 L114.9,1424.4 L116.0,1424.4 L117.1,1424.4 L118.2,1424.4 L119.3,1424.4 L120.4,1424.4 L121.5,1424.4 L122.6,1424.4 L123.7,1424.4 L124.8,1424.4 L125.9,1424.4 L127.0,1424.4 L128.1,1424.4 L129.2,1424.4 L130.3,1424.4 L131.4,1424.4 L132.5,1424.4 L133.6,1424.4 L134.7,1424.4 L135.8,1424.4 L136.9,1424.4 L138.0,1424.4 L139.1,1424.3 L140.2,1424.3 L141.3,1424.3 L142.4,1424.3 L143.5,1424.3 L144.6,1424.3 L145.7,1424.3 L146.8,1424.3 L147.9,1424.3 L149.0,1424.3 L150.1,1424.3 L151.2,1424.3 L152.3,1424.3 L153.4,1424.3 L154.5,1424.3 L155.6,1424.3 L156.7,1424.3 L157.8,1424.3 L158.9,1424.3 L160.0,1424.3 L161.1,1424.3 L162.2,1424.3 L163.3,1424.3 L164.4,1424.3 L165.5,1424.3 L166.6,1424.3 L167.8,1424.3 L168.9,1424.3 L170.0,1424.3 L171.1,1424.3 L172.2,1424.3 L173.3,1424.3 L174.4,1424.3 L175.5,1424.3 L176.6,1424.2 L177.7,1424.2 L178.8,1424.2 L179.9,1424.2 L181.0,1424.2 L182.1,1424.2 L183.2,1424.2 L184.3,1424.3 L185.5,1424.4 L186.6,1424.6 L187.8,1424.8 L189.0,1424.9 L190.1,1425.0 L191.2,1425.0 L192.3,1424.9 L193.3,1424.7 L194.2,1424.2 L195.3,1423.2 L196.3,1421.9 L197.3,1420.3 L198.1,1418.5 L198.9,1416.5 L199.6,1414.5 L200.3,1412.4 L200.9,1410.4 L201.4,1408.6 L201.9,1406.9 L202.2,1405.8 L202.5,1404.6 L202.7,1403.6 L202.9,1402.5 L203.1,1401.5 L203.2,1400.5 L203.4,1399.4 L203.5,1398.4 L203.6,1397.4 L203.8,1396.3 L204.0,1395.3 L204.2,1394.2 L204.4,1393.2 L204.6,1392.1 L204.8,1391.0 L205.0,1390.0 L205.2,1388.9 L205.4,1387.9 L205.6,1386.8 L205.8,1385.8 L205.9,1384.7 L206.1,1383.6 L206.3,1382.6 L206.5,1381.5 L206.7,1380.5 L206.9,1379.4 L207.1,1378.3 L207.3,1377.3 L207.5,1376.2 L207.7,1375.2 L207.9,1374.1 L208.1,1373.1 L208.3,1372.0 L208.5,1370.9 L208.7,1369.9 L208.9,1368.8 L209.1,1367.8 L209.3,1366.7 L209.4,1365.6 L209.6,1364.6 L209.7,1363.6 L209.9,1362.6 L210.0,1361.6 L210.1,1360.6 L210.2,1359.6 L210.3,1358.6 L210.4,1357.6 L210.5,1356.6 L210.6,1355.6 L210.8,1354.6 L210.9,1353.6 L211.0,1352.6 L211.1,1351.6 L211.2,1350.6 L211.3,1349.6 L211.5,1348.6 L211.6,1347.6 L211.7,1346.6 L211.8,1345.6 L211.9,1344.6 L212.0,1343.6 L212.2,1342.6 L212.3,1341.6 L212.4,1340.6 L212.5,1339.6 L212.6,1338.6 L212.7,1337.6 L212.8,1336.6 L213.0,1335.6 L213.1,1334.6 L213.2,1333.6 L213.3,1332.6 L213.4,1331.6 L213.5,1330.6 L213.7,1329.6 L213.8,1328.6 L213.9,1327.6 L214.0,1326.6 L214.1,1325.6 L214.2,1324.6 L214.4,1323.6 L214.5,1322.6 L214.6,1321.6 L214.7,1320.6 L214.8,1319.6 L214.9,1318.7 L215.0,1317.7 L215.2,1316.6 L215.3,1315.6 L215.4,1314.6 L215.5,1313.5 L215.7,1312.3 L215.8,1311.2 L216.0,1310.0 L216.2,1308.9 L216.3,1307.7 L216.5,1306.5 L216.6,1305.4 L216.8,1304.2 L216.9,1303.1 L217.1,1301.9 L217.2,1300.8 L217.4,1299.6 L217.6,1298.4 L217.7,1297.3 L217.9,1296.1 L218.0,1295.0 L218.2,1293.8 L218.3,1292.7 L218.5,1291.5 L218.6,1290.4 L218.8,1289.2 L218.9,1288.1 L219.1,1286.9 L219.3,1285.8 L219.4,1284.6 L219.6,1283.4 L219.7,1282.3 L219.9,1281.1 L220.0,1280.0 L220.2,1278.8 L220.3,1277.7 L220.5,1276.5 L220.6,1275.4 L220.8,1274.2 L220.9,1273.1 L221.1,1271.9 L221.3,1270.7 L221.4,1269.6 L221.6,1268.4 L221.7,1267.3 L221.9,1266.1 L222.0,1265.0 L222.2,1263.8 L222.4,1262.7 L222.5,1261.5 L222.7,1260.4 L222.8,1259.2 L223.0,1258.1 L223.1,1256.9 L223.2,1255.7 L223.3,1254.6 L223.4,1253.4 L223.5,1252.3 L223.6,1251.1 L223.7,1250.0 L223.8,1248.8 L223.9,1247.7 L224.0,1246.5 L224.1,1245.4 L224.1,1244.2 L224.2,1243.1 L224.3,1241.9 L224.4,1240.8 L224.5,1239.6 L224.6,1238.5 L224.7,1237.3 L224.8,1236.2 L224.9,1235.0 L225.0,1233.8 L225.1,1232.7 L225.2,1231.5 L225.3,1230.4 L225.4,1229.2 L225.5,1228.1 L225.6,1226.9 L225.7,1225.8 L225.8,1224.6 L225.9,1223.5 L225.9,1222.3 L226.0,1221.2 L226.1,1220.0 L226.2,1218.8 L226.3,1217.7 L226.4,1216.5 L226.4,1215.4 L226.5,1214.2 L226.6,1213.1 L226.8,1211.9 L226.9,1210.8 L227.1,1209.7 L227.2,1208.7 L227.4,1207.7 L227.6,1206.6 L227.8,1205.6 L228.0,1204.6 L228.2,1203.6 L228.4,1202.6 L228.6,1201.6 L228.8,1200.5 L229.0,1199.5 L229.2,1198.5 L229.4,1197.5 L229.6,1196.4 L229.8,1195.4 L230.0,1194.4 L230.2,1193.3 L230.4,1192.3 L230.6,1191.3 L230.8,1190.3 L231.0,1189.3 L231.1,1188.3 L231.3,1187.3 L231.5,1186.4 L231.7,1185.4 L231.9,1184.4 L232.1,1183.4 L232.3,1182.3 L232.5,1181.2 L232.7,1180.0 L233.0,1178.1 L233.4,1176.0 L233.7,1173.7 L234.1,1171.3 L234.5,1168.9 L234.8,1166.5 L235.2,1164.1 L235.6,1161.8 L235.9,1159.6 L236.2,1157.7 L236.4,1156.5 L236.6,1155.3 L236.8,1154.2 L236.9,1153.1 L237.1,1152.1 L237.3,1151.1 L237.5,1150.0 L237.6,1149.0 L237.8,1148.0 L238.0,1146.9 L238.1,1145.9 L238.3,1144.8 L238.5,1143.7 L238.7,1142.6 L238.8,1141.6 L239.0,1140.5 L239.2,1139.4 L239.4,1138.3 L239.6,1137.2 L239.7,1136.2 L239.9,1135.1 L240.1,1134.0 L240.2,1132.9 L240.4,1131.8 L240.5,1130.7 L240.7,1129.6 L240.9,1128.5 L241.1,1127.5 L241.3,1126.4 L241.5,1125.4 L241.7,1124.5 L242.0,1123.5 L242.2,1122.6 L242.5,1121.7 L242.8,1120.9 L243.1,1120.0 L243.4,1119.1 L243.6,1118.2 L243.9,1117.3 L244.2,1116.4 L244.5,1115.5 L244.7,1114.6 L245.0,1113.7 L245.3,1112.8 L245.6,1111.9 L245.8,1111.1 L246.1,1110.2 L246.4,1109.3 L246.6,1108.4 L246.9,1107.5 L247.2,1106.6 L247.4,1105.7 L247.6,1104.9 L247.8,1104.0 L248.1,1103.2 L248.3,1102.3 L248.6,1101.4 L248.9,1100.5 L249.2,1099.5 L249.6,1098.5 L250.3,1096.6 L251.1,1094.5 L252.0,1092.2 L253.0,1089.8 L254.1,1087.4 L255.2,1085.0 L256.4,1082.7 L257.7,1080.5 L259.0,1078.6 L260.4,1076.9 L261.6,1075.8 L262.8,1074.7 L264.1,1073.8 L265.4,1073.0 L266.8,1072.2 L268.2,1071.5 L269.6,1070.9 L271.0,1070.3 L272.4,1069.8 L273.8,1069.4 L275.1,1069.1 L276.4,1068.8 L277.7,1068.6 L279.0,1068.5 L280.3,1068.4 L281.6,1068.4 L283.0,1068.4 L284.4,1068.3 L285.8,1068.3 L287.3,1068.3 L289.3,1068.2 L291.4,1068.2 L293.7,1068.1 L296.0,1068.1 L298.3,1068.0 L300.6,1068.1 L302.8,1068.1 L305.0,1068.3 L307.0,1068.5 L308.9,1068.8 L310.2,1069.1 L311.3,1069.4 L312.5,1069.7 L313.6,1070.1 L314.7,1070.5 L315.7,1070.9 L316.7,1071.4 L317.7,1071.8 L318.6,1072.4 L319.6,1072.9 L320.5,1073.4 L321.4,1074.0 L322.2,1074.6 L323.1,1075.2 L323.9,1075.8 L324.7,1076.4 L325.5,1077.1 L326.2,1077.9 L327.0,1078.7 L327.7,1079.6 L328.6,1080.9 L329.6,1082.4 L330.5,1084.0 L331.4,1085.7 L332.2,1087.5 L333.1,1089.3 L333.8,1091.1 L334.5,1092.8 L335.2,1094.4 L335.8,1095.8 L336.2,1096.7 L336.5,1097.6 L336.8,1098.4 L337.0,1099.2 L337.3,1100.0 L337.5,1100.8 L337.8,1101.5 L338.0,1102.3 L338.2,1103.1 L338.5,1103.9 L338.8,1104.7 L339.0,1105.5 L339.3,1106.3 L339.6,1107.1 L339.9,1107.9 L340.1,1108.7 L340.4,1109.5 L340.7,1110.3 L340.9,1111.1 L341.2,1111.9 L341.5,1112.7 L341.7,1113.5 L342.0,1114.3 L342.3,1115.1 L342.6,1115.9 L342.8,1116.7 L343.1,1117.5 L343.4,1118.3 L343.6,1119.1 L343.9,1120.0 L344.2,1121.0 L344.5,1122.0 L344.7,1123.1 L345.0,1124.2 L345.3,1125.3 L345.5,1126.4 L345.8,1127.5 L346.1,1128.6 L346.3,1129.7 L346.6,1130.8 L346.9,1131.8 L347.1,1132.9 L347.4,1134.0 L347.7,1135.1 L347.9,1136.2 L348.2,1137.2 L348.5,1138.3 L348.8,1139.4 L349.0,1140.5 L349.3,1141.5 L349.6,1142.6 L349.8,1143.6 L350.1,1144.7 L350.3,1145.7 L350.6,1146.7 L350.8,1147.8 L351.1,1148.9 L351.4,1150.0 L351.7,1151.1 L352.0,1152.3 L352.5,1154.0 L353.0,1155.8 L353.6,1157.8 L354.2,1159.8 L354.8,1161.8 L355.4,1163.8 L355.9,1165.8 L356.4,1167.7 L356.9,1169.5 L357.3,1171.2 L357.5,1172.3 L357.7,1173.4 L357.9,1174.4 L358.0,1175.4 L358.2,1176.3 L358.3,1177.2 L358.4,1178.2 L358.5,1179.1 L358.7,1180.1 L358.8,1181.0 L358.9,1182.0 L359.1,1183.0 L359.2,1184.0 L359.4,1185.0 L359.6,1186.0 L359.7,1186.9 L359.9,1187.9 L360.0,1188.9 L360.2,1189.9 L360.3,1190.9 L360.4,1191.9 L360.6,1192.8 L360.8,1193.8 L360.9,1194.8 L361.0,1195.8 L361.2,1196.8 L361.4,1197.8 L361.5,1198.8 L361.7,1199.7 L361.8,1200.7 L361.9,1201.7 L362.1,1202.7 L362.2,1203.7 L362.4,1204.7 L362.6,1205.6 L362.7,1206.6 L362.9,1207.6 L363.0,1208.6 L363.1,1209.6 L363.3,1210.6 L363.5,1211.5 L363.6,1212.5 L363.8,1213.5 L363.9,1214.5 L364.1,1215.5 L364.2,1216.5 L364.4,1217.4 L364.5,1218.4 L364.7,1219.4 L364.8,1220.4 L364.9,1221.4 L365.1,1222.4 L365.2,1223.4 L365.4,1224.4 L365.5,1225.4 L365.6,1226.5 L365.8,1227.5 L365.9,1228.5 L366.0,1229.5 L366.1,1230.5 L366.3,1231.5 L366.4,1232.5 L366.6,1233.5 L366.7,1234.5 L366.8,1235.5 L367.0,1236.6 L367.1,1237.6 L367.2,1238.6 L367.4,1239.6 L367.5,1240.6 L367.6,1241.6 L367.8,1242.6 L367.9,1243.6 L368.0,1244.6 L368.2,1245.7 L368.3,1246.7 L368.4,1247.7 L368.6,1248.7 L368.7,1249.7 L368.9,1250.7 L369.0,1251.7 L369.1,1252.7 L369.3,1253.7 L369.4,1254.7 L369.5,1255.8 L369.7,1256.8 L369.8,1257.8 L369.9,1258.8 L370.1,1259.8 L370.2,1260.8 L370.3,1261.8 L370.5,1262.8 L370.6,1263.8 L370.7,1264.8 L370.9,1265.8 L371.0,1266.9 L371.1,1267.9 L371.3,1268.9 L371.4,1269.9 L371.5,1270.9 L371.7,1271.9 L371.8,1272.9 L371.9,1273.9 L372.1,1275.0 L372.2,1276.0 L372.3,1277.0 L372.5,1278.0 L372.6,1279.0 L372.8,1280.0 L372.9,1281.0 L373.1,1282.0 L373.2,1283.0 L373.4,1283.9 L373.5,1284.9 L373.7,1285.9 L373.9,1286.8 L374.0,1287.8 L374.2,1288.7 L374.4,1289.7 L374.5,1290.7 L374.7,1291.6 L374.8,1292.6 L375.0,1293.6 L375.2,1294.6 L375.3,1295.5 L375.5,1296.5 L375.7,1297.5 L375.8,1298.4 L376.0,1299.4 L376.1,1300.4 L376.3,1301.3 L376.5,1302.3 L376.6,1303.3 L376.8,1304.2 L376.9,1305.2 L377.1,1306.2 L377.3,1307.1 L377.4,1308.1 L377.6,1309.1 L377.8,1310.0 L377.9,1311.0 L378.1,1312.0 L378.2,1312.9 L378.4,1313.9 L378.6,1314.9 L378.7,1315.8 L378.9,1316.8 L379.1,1317.8 L379.2,1318.8 L379.4,1319.7 L379.5,1320.7 L379.7,1321.7 L379.8,1322.6 L380.0,1323.6 L380.1,1324.6 L380.3,1325.6 L380.4,1326.5 L380.6,1327.5 L380.8,1328.4 L381.0,1329.4 L381.2,1330.3 L381.5,1331.2 L381.7,1332.2 L382.0,1333.1 L382.3,1334.0 L382.6,1334.9 L382.9,1335.8 L383.2,1336.7 L383.5,1337.6 L383.8,1338.5 L384.0,1339.4 L384.3,1340.3 L384.6,1341.2 L384.9,1342.1 L385.1,1343.0 L385.4,1344.0 L385.7,1344.9 L386.0,1345.8 L386.2,1346.7 L386.5,1347.6 L386.8,1348.5 L387.1,1349.4 L387.3,1350.3 L387.6,1351.2 L387.9,1352.2 L388.1,1353.1 L388.4,1354.0 L388.7,1354.9 L389.0,1355.8 L389.2,1356.7 L389.5,1357.6 L389.8,1358.5 L390.1,1359.4 L390.3,1360.3 L390.6,1361.2 L390.9,1362.1 L391.2,1363.0 L391.4,1363.9 L391.7,1364.9 L392.0,1365.8 L392.3,1366.8 L392.6,1367.9 L392.9,1369.0 L393.3,1370.0 L393.6,1371.1 L393.9,1372.2 L394.2,1373.3 L394.5,1374.4 L394.8,1375.5 L395.2,1376.5 L395.5,1377.6 L395.8,1378.7 L396.1,1379.8 L396.4,1380.8 L396.8,1381.9 L397.1,1383.0 L397.4,1384.0 L397.7,1385.1 L398.0,1386.2 L398.3,1387.3 L398.7,1388.3 L399.0,1389.4 L399.3,1390.4 L399.6,1391.4 L399.9,1392.5 L400.2,1393.5 L400.6,1394.6 L400.9,1395.7 L401.2,1396.8 L401.5,1398.0 L401.8,1399.5 L402.1,1401.1 L402.4,1402.8 L402.7,1404.6 L402.9,1406.3 L403.3,1408.1 L403.6,1409.7 L404.0,1411.4 L404.6,1412.8 L405.2,1414.2 L405.8,1415.2 L406.5,1416.3 L407.2,1417.2 L408.0,1418.2 L408.8,1419.1 L409.6,1419.9 L410.5,1420.6 L411.4,1421.3 L412.4,1421.8 L413.3,1422.3 L414.2,1422.6 L415.2,1422.8 L416.2,1422.9 L417.3,1422.9 L418.3,1422.9 L419.4,1422.8 L420.5,1422.7 L421.6,1422.7 L422.6,1422.6 L423.7,1422.6 L424.7,1422.6 L425.8,1422.7 L426.8,1422.7 L427.8,1422.7 L428.9,1422.8 L429.9,1422.8 L431.0,1422.8 L432.0,1422.8 L433.0,1422.9 L434.1,1422.9 L435.1,1422.9 L436.1,1423.0 L437.2,1423.0 L438.2,1423.0 L439.3,1423.1 L440.3,1423.1 L441.3,1423.1 L442.4,1423.1 L443.4,1423.2 L444.5,1423.2 L445.5,1423.2 L446.5,1423.3 L447.6,1423.3 L448.6,1423.3 L449.6,1423.3 L450.7,1423.4 L451.7,1423.4 L452.8,1423.4 L453.8,1423.5 L454.8,1423.5 L455.9,1423.5 L456.9,1423.6 L458.0,1423.6 L459.0,1423.6 L460.0,1423.7 L461.1,1423.7 L462.1,1423.7 L463.2,1423.7 L464.2,1423.8 L465.2,1423.8 L466.3,1423.8 L467.3,1423.9 L468.3,1423.9 L469.4,1423.9 L470.4,1423.9 L471.5,1424.0 L472.5,1424.0 L473.5,1424.0 L474.6,1424.1 L475.6,1424.1 L476.7,1424.1 L477.7,1424.2 L478.7,1424.2 L479.8,1424.2 L480.8,1424.2 L481.8,1424.3 L482.9,1424.3 L483.9,1424.3 L485.0,1424.4 L486.0,1424.4" stroke="#0a0ac8" stroke-width="3.1" fill="none" stroke-dasharray="4.5 1.6"/>
<rect x="84.0" y="1032.0" width="401.5" height="399.0" fill="none" stroke="#000" stroke-width="3"/>
<path d="M84.0,1358.7h7 M485.5,1358.7h-7 M84.0,1285.9h7 M485.5,1285.9h-7 M84.0,1213.1h7 M485.5,1213.1h-7 M84.0,1140.3h7 M485.5,1140.3h-7 M84.0,1067.5h7 M485.5,1067.5h-7 M120.5,1431.0v-7 M120.5,1032.0v7 M193.5,1431.0v-7 M193.5,1032.0v7 M266.5,1431.0v-7 M266.5,1032.0v7 M339.5,1431.0v-7 M339.5,1032.0v7 M412.5,1431.0v-7 M412.5,1032.0v7" stroke="#000" stroke-width="2.5" fill="none"/>
<path d="M190.4,1197.3 L226.9,1208.8 M383,1212.3 L428,1201.2" stroke="#000" stroke-width="2" fill="none"/>
<text x="29.98" y="65.00" font-size="23.30" font-weight="normal" style="fill:#000" stroke="#000" stroke-width="0.5">1.55</text>
<text x="30.12" y="265.50" font-size="23.30" font-weight="normal" style="fill:#000" stroke="#000" stroke-width="0.5">1.50</text>
<text x="30.23" y="460.20" font-size="23.30" font-weight="normal" style="fill:#000" stroke="#000" stroke-width="0.5">1.45</text>
<text x="99.44" y="486.20" font-size="23.30" font-weight="normal" style="fill:#000" stroke="#000" stroke-width="0.4">0.4</text>
<text x="160.51" y="486.20" font-size="23.30" font-weight="normal" style="fill:#000" stroke="#000" stroke-width="0.4">0.6</text>
<text x="221.21" y="486.20" font-size="23.30" font-weight="normal" style="fill:#000" stroke="#000" stroke-width="0.4">0.8</text>
<text x="284.29" y="486.20" font-size="23.30" font-weight="normal" style="fill:#000" stroke="#000" stroke-width="0.4">1.0</text>
<text x="346.81" y="486.20" font-size="23.30" font-weight="normal" style="fill:#000" stroke="#000" stroke-width="0.4">1.2</text>
<text x="407.87" y="486.20" font-size="23.30" font-weight="normal" style="fill:#000" stroke="#000" stroke-width="0.4">1.4</text>
<text x="469.24" y="486.20" font-size="23.30" font-weight="normal" style="fill:#000" stroke="#000" stroke-width="0.4">1.6</text>
<text x="170.29" y="517.50" font-size="27.70" font-weight="bold" style="fill:#000" stroke="#000" stroke-width="0.2">Wavelength&#160; (&#181;m)</text>
<text x="429.76" y="114.60" font-size="34.00" font-weight="normal" style="fill:#000" stroke="#000" stroke-width="0.7">(a)</text>
<text x="127.39" y="166.20" font-size="25.50" font-weight="normal" style="fill:#000" stroke="#000" stroke-width="0.5">Ordinary ray</text>
<text x="200.11" y="224.90" font-size="23.60" font-weight="normal" style="fill:#da0c14" stroke="#da0c14" stroke-width="0.5">KDP</text>
<text x="198.69" y="293.20" font-size="23.60" font-weight="normal" style="fill:#0a0ac8" stroke="#0a0ac8" stroke-width="0.5">DKDP</text>
<text x="121.95" y="336.00" font-size="25.50" font-weight="normal" style="fill:#000" stroke="#000" stroke-width="0.5">Extraordinary ray</text>
<text x="199.71" y="384.30" font-size="23.60" font-weight="normal" style="fill:#da0c14" stroke="#da0c14" stroke-width="0.5">KDP</text>
<text x="198.49" y="441.50" font-size="23.60" font-weight="normal" style="fill:#0a0ac8" stroke="#0a0ac8" stroke-width="0.5">DKDP</text>
<text x="30.77" y="551.00" font-size="23.30" font-weight="normal" style="fill:#000" stroke="#000" stroke-width="0.75">43.0</text>
<text x="32.63" y="601.00" font-size="23.30" font-weight="normal" style="fill:#000" stroke="#000" stroke-width="0.75">42.5</text>
<text x="31.82" y="652.50" font-size="23.30" font-weight="normal" style="fill:#000" stroke="#000" stroke-width="0.75">42.0</text>
<text x="31.93" y="701.00" font-size="23.30" font-weight="normal" style="fill:#000" stroke="#000" stroke-width="0.75">41.5</text>
<text x="31.82" y="751.50" font-size="23.30" font-weight="normal" style="fill:#000" stroke="#000" stroke-width="0.75">41.0</text>
<text x="31.70" y="802.00" font-size="23.30" font-weight="normal" style="fill:#000" stroke="#000" stroke-width="0.75">37.5</text>
<text x="31.58" y="851.00" font-size="23.30" font-weight="normal" style="fill:#000" stroke="#000" stroke-width="0.75">37.0</text>
<text x="31.70" y="900.00" font-size="23.30" font-weight="normal" style="fill:#000" stroke="#000" stroke-width="0.75">36.5</text>
<text x="31.58" y="948.50" font-size="23.30" font-weight="normal" style="fill:#000" stroke="#000" stroke-width="0.75">36.0</text>
<text x="98.26" y="971.50" font-size="23.30" font-weight="normal" style="fill:#000" stroke="#000" stroke-width="0.4">0.8</text>
<text x="165.27" y="971.50" font-size="23.30" font-weight="normal" style="fill:#000" stroke="#000" stroke-width="0.4">0.9</text>
<text x="230.99" y="971.50" font-size="23.30" font-weight="normal" style="fill:#000" stroke="#000" stroke-width="0.4">1.0</text>
<text x="297.51" y="971.50" font-size="23.30" font-weight="normal" style="fill:#000" stroke="#000" stroke-width="0.4">1.1</text>
<text x="365.76" y="971.50" font-size="23.30" font-weight="normal" style="fill:#000" stroke="#000" stroke-width="0.4">1.2</text>
<text x="432.94" y="971.50" font-size="23.30" font-weight="normal" style="fill:#000" stroke="#000" stroke-width="0.4">1.3</text>
<text x="124.85" y="1003.30" font-size="27.70" font-weight="bold" style="fill:#000" stroke="#000" stroke-width="0.2">Signal wavelength&#160; (&#181;m)</text>
<text x="428.76" y="598.00" font-size="34.00" font-weight="normal" style="fill:#000" stroke="#000" stroke-width="0.7">(b)</text>
<text x="171.58" y="660.00" font-size="25.50" font-weight="normal" style="fill:#da0c14" stroke="#da0c14" stroke-width="0.5">KDP</text>
<text x="152.72" y="830.50" font-size="25.50" font-weight="normal" style="fill:#0a0ac8" stroke="#0a0ac8" stroke-width="0.5">DKDP</text>
<text x="43.74" y="1076.30" font-size="23.30" font-weight="normal" style="fill:#000" stroke="#000" stroke-width="0.5">1.0</text>
<text x="43.81" y="1147.20" font-size="23.30" font-weight="normal" style="fill:#000" stroke="#000" stroke-width="0.5">0.8</text>
<text x="43.81" y="1221.30" font-size="23.30" font-weight="normal" style="fill:#000" stroke="#000" stroke-width="0.5">0.6</text>
<text x="43.69" y="1295.50" font-size="23.30" font-weight="normal" style="fill:#000" stroke="#000" stroke-width="0.5">0.4</text>
<text x="43.92" y="1368.80" font-size="23.30" font-weight="normal" style="fill:#000" stroke="#000" stroke-width="0.5">0.2</text>
<text x="54.68" y="1438.30" font-size="23.30" font-weight="normal" style="fill:#000" stroke="#000" stroke-width="0.5">0</text>
<text x="101.51" y="1460.80" font-size="23.30" font-weight="normal" style="fill:#000" stroke="#000" stroke-width="0.4">0.8</text>
<text x="175.27" y="1460.80" font-size="23.30" font-weight="normal" style="fill:#000" stroke="#000" stroke-width="0.4">0.9</text>
<text x="248.34" y="1460.80" font-size="23.30" font-weight="normal" style="fill:#000" stroke="#000" stroke-width="0.4">1.0</text>
<text x="321.71" y="1460.80" font-size="23.30" font-weight="normal" style="fill:#000" stroke="#000" stroke-width="0.4">1.1</text>
<text x="394.71" y="1460.80" font-size="23.30" font-weight="normal" style="fill:#000" stroke="#000" stroke-width="0.4">1.2</text>
<text x="465.84" y="1460.80" font-size="23.30" font-weight="normal" style="fill:#000" stroke="#000" stroke-width="0.4">1.3</text>
<text x="129.20" y="1495.20" font-size="27.70" font-weight="bold" style="fill:#000" stroke="#000" stroke-width="0.2">Signal wavelength&#160; (&#181;m)</text>
<text x="432.58" y="1073.30" font-size="34.00" font-weight="normal" style="fill:#000" stroke="#000" stroke-width="0.7">(c)</text>
<text x="156.74" y="1156.90" font-size="23.60" font-weight="normal" style="fill:#0a0ac8" stroke="#0a0ac8" stroke-width="0.5">DKDP</text>
<text x="411.56" y="1157.70" font-size="23.60" font-weight="normal" style="fill:#da0c14" stroke="#da0c14" stroke-width="0.5">KDP</text>
<text transform="translate(22.40,256.80) rotate(-90)" x="-107.89" y="0" font-size="27.70" font-weight="bold" stroke="#000" stroke-width="0.2">Refractive index</text>
<text transform="translate(19.50,743.00) rotate(-90)" x="-212.27" y="0" font-size="25.30" font-weight="bold" stroke="#000" stroke-width="0.2">Phase matching angle: <tspan font-family='"Liberation Serif", serif' font-style="italic" font-weight="normal" font-size="1.1em">&#952;</tspan><tspan font-size="0.62em" dy="0.3em">m</tspan><tspan dy="-0.3em">&#160; (degree)</tspan></text>
<text transform="translate(32.10,1238.65) rotate(-90)" x="-99.33" y="0" font-size="25.70" font-weight="bold" stroke="#000" stroke-width="0.2">Normalized gain</text>
<text transform="translate(359.45,683.96) scale(0.2843,0.2417)" font-size="100" stroke="#000" stroke-width="1.90" font-family='"Liberation Serif", serif' font-style="italic">&#945;</text>
<text transform="translate(379.39,682.40) scale(0.2429,0.2000)" font-size="100" stroke="#000" stroke-width="2.26">=</text>
<text transform="translate(398.91,684.15) scale(0.2485,0.2479)" font-size="100" stroke="#000" stroke-width="2.01">0.9</text>
<text transform="translate(435.78,675.80) scale(0.1536,0.1357)" font-size="100" stroke="#000" stroke-width="3.46">&#176;</text>
<text transform="translate(359.85,735.66) scale(0.2843,0.2417)" font-size="100" stroke="#000" stroke-width="1.90" font-family='"Liberation Serif", serif' font-style="italic">&#945;</text>
<text transform="translate(379.79,734.10) scale(0.2429,0.2000)" font-size="100" stroke="#000" stroke-width="2.26">=</text>
<text transform="translate(399.32,735.85) scale(0.2447,0.2479)" font-size="100" stroke="#000" stroke-width="2.03">0.4</text>
<text transform="translate(436.18,727.50) scale(0.1536,0.1357)" font-size="100" stroke="#000" stroke-width="3.46">&#176;</text>
<text transform="translate(359.85,843.16) scale(0.2843,0.2417)" font-size="100" stroke="#000" stroke-width="1.90" font-family='"Liberation Serif", serif' font-style="italic">&#945;</text>
<text transform="translate(379.79,841.60) scale(0.2429,0.2000)" font-size="100" stroke="#000" stroke-width="2.26">=</text>
<text transform="translate(399.31,843.35) scale(0.2485,0.2479)" font-size="100" stroke="#000" stroke-width="2.01">0.9</text>
<text transform="translate(436.18,835.00) scale(0.1536,0.1357)" font-size="100" stroke="#000" stroke-width="3.46">&#176;</text>
<text transform="translate(359.85,898.16) scale(0.2843,0.2417)" font-size="100" stroke="#000" stroke-width="1.90" font-family='"Liberation Serif", serif' font-style="italic">&#945;</text>
<text transform="translate(379.79,896.60) scale(0.2429,0.2000)" font-size="100" stroke="#000" stroke-width="2.26">=</text>
<text transform="translate(399.32,898.35) scale(0.2447,0.2479)" font-size="100" stroke="#000" stroke-width="2.03">0.4</text>
<text transform="translate(436.18,890.00) scale(0.1536,0.1357)" font-size="100" stroke="#000" stroke-width="3.46">&#176;</text>
<text transform="translate(101.52,1102.31) scale(0.2600,0.2207)" font-size="100" stroke="#000" stroke-width="2.08" font-family='"Liberation Serif", serif' font-style="italic">&#945;</text>
<text transform="translate(119.87,1100.83) scale(0.2218,0.1815)" font-size="100" stroke="#000" stroke-width="2.48">=</text>
<text transform="translate(137.82,1102.49) scale(0.2280,0.2269)" font-size="100" stroke="#000" stroke-width="2.20">0.9</text>
<text transform="translate(171.76,1094.68) scale(0.1384,0.1220)" font-size="100" stroke="#000" stroke-width="3.84">&#176;</text>
<text transform="translate(150.12,1189.31) scale(0.2600,0.2207)" font-size="100" stroke="#000" stroke-width="2.08" font-family='"Liberation Serif", serif' font-style="italic">&#945;</text>
<text transform="translate(168.47,1187.83) scale(0.2218,0.1815)" font-size="100" stroke="#000" stroke-width="2.48">=</text>
<text transform="translate(186.43,1189.49) scale(0.2245,0.2269)" font-size="100" stroke="#000" stroke-width="2.22">0.4</text>
<text transform="translate(220.36,1181.68) scale(0.1384,0.1220)" font-size="100" stroke="#000" stroke-width="3.84">&#176;</text>
<text transform="translate(404.12,1124.11) scale(0.2600,0.2207)" font-size="100" stroke="#000" stroke-width="2.08" font-family='"Liberation Serif", serif' font-style="italic">&#945;</text>
<text transform="translate(422.47,1122.63) scale(0.2218,0.1815)" font-size="100" stroke="#000" stroke-width="2.48">=</text>
<text transform="translate(440.42,1124.29) scale(0.2280,0.2269)" font-size="100" stroke="#000" stroke-width="2.20">0.9</text>
<text transform="translate(474.36,1116.48) scale(0.1384,0.1220)" font-size="100" stroke="#000" stroke-width="3.84">&#176;</text>
<text transform="translate(416.62,1186.61) scale(0.2600,0.2207)" font-size="100" stroke="#000" stroke-width="2.08" font-family='"Liberation Serif", serif' font-style="italic">&#945;</text>
<text transform="translate(434.97,1185.13) scale(0.2218,0.1815)" font-size="100" stroke="#000" stroke-width="2.48">=</text>
<text transform="translate(436.70,1211.79) scale(0.2245,0.2269)" font-size="100" stroke="#000" stroke-width="2.22">0.4</text>
<text transform="translate(470.63,1203.98) scale(0.1384,0.1220)" font-size="100" stroke="#000" stroke-width="3.84">&#176;</text>
</svg>
</body></html>
